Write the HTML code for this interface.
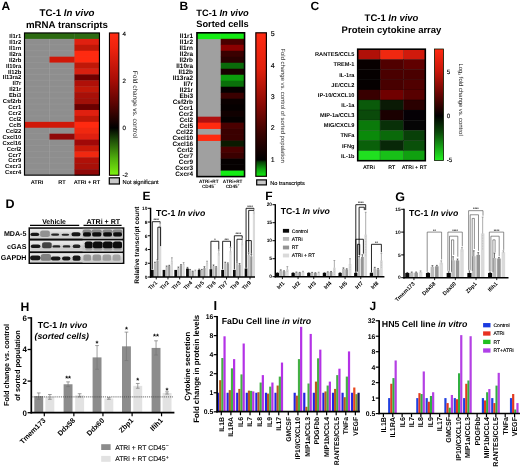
<!DOCTYPE html>
<html lang="en"><head><meta charset="utf-8"><title>Figure</title><style>html,body{margin:0;padding:0;background:#fff;overflow:hidden}svg{display:block}text{font-family:"Liberation Sans",Arial,sans-serif}</style></head><body><svg width="520" height="468" viewBox="0 0 520 468" font-family="Liberation Sans, Arial, sans-serif" text-rendering="geometricPrecision"><defs>
<linearGradient id="gA" x1="0" y1="0" x2="0" y2="1">
<stop offset="0" stop-color="#ff2a12"/><stop offset="0.10" stop-color="#f0230e"/><stop offset="0.33" stop-color="#a80d06"/><stop offset="0.5" stop-color="#5a0402"/><stop offset="0.667" stop-color="#000"/><stop offset="0.75" stop-color="#1d4a08"/><stop offset="0.88" stop-color="#4fae0c"/><stop offset="1" stop-color="#7df210"/>
</linearGradient>
<linearGradient id="gB" x1="0" y1="0" x2="0" y2="1">
<stop offset="0" stop-color="#ff2a12"/><stop offset="0.25" stop-color="#e0200c"/><stop offset="0.5" stop-color="#8a0a04"/><stop offset="0.7" stop-color="#3a0301"/><stop offset="0.885" stop-color="#000"/><stop offset="0.9" stop-color="#064006"/><stop offset="0.95" stop-color="#10a010"/><stop offset="1" stop-color="#10f010"/>
</linearGradient>
<linearGradient id="gC" x1="0" y1="0" x2="0" y2="1">
<stop offset="0" stop-color="#ff2a12"/><stop offset="0.2" stop-color="#c8160a"/><stop offset="0.4" stop-color="#6a0603"/><stop offset="0.6" stop-color="#000"/><stop offset="0.75" stop-color="#0a4a0a"/><stop offset="0.9" stop-color="#18b018"/><stop offset="1" stop-color="#22f022"/>
</linearGradient>
</defs>
<filter id="bl" x="-30%" y="-60%" width="160%" height="220%"><feGaussianBlur stdDeviation="0.55"/></filter><filter id="bl2" x="-30%" y="-60%" width="160%" height="220%"><feGaussianBlur stdDeviation="1.0"/></filter>
<text x="1.50" y="10.00" font-size="12" text-anchor="start" font-weight="bold" font-style="normal" fill="#000">A</text>
<text x="67.00" y="15.80" font-size="9.7" text-anchor="middle" font-weight="bold" font-style="normal" fill="#000">TC-1 <tspan font-style="italic">In vivo</tspan></text>
<text x="67.00" y="27.80" font-size="9.7" text-anchor="middle" font-weight="bold" font-style="normal" fill="#000">mRNA transcripts</text>
<rect x="24.50" y="32.95" width="74.95" height="142.20" fill="#8e8e8e"/>
<line x1="24.50" y1="38.88" x2="74.47" y2="38.88" stroke="#9a9a9a" stroke-width="0.5"/>
<line x1="24.50" y1="44.80" x2="74.47" y2="44.80" stroke="#9a9a9a" stroke-width="0.5"/>
<line x1="24.50" y1="50.73" x2="74.47" y2="50.73" stroke="#9a9a9a" stroke-width="0.5"/>
<line x1="24.50" y1="56.65" x2="74.47" y2="56.65" stroke="#9a9a9a" stroke-width="0.5"/>
<line x1="24.50" y1="62.58" x2="74.47" y2="62.58" stroke="#9a9a9a" stroke-width="0.5"/>
<line x1="24.50" y1="68.50" x2="74.47" y2="68.50" stroke="#9a9a9a" stroke-width="0.5"/>
<line x1="24.50" y1="74.43" x2="74.47" y2="74.43" stroke="#9a9a9a" stroke-width="0.5"/>
<line x1="24.50" y1="80.35" x2="74.47" y2="80.35" stroke="#9a9a9a" stroke-width="0.5"/>
<line x1="24.50" y1="86.28" x2="74.47" y2="86.28" stroke="#9a9a9a" stroke-width="0.5"/>
<line x1="24.50" y1="92.20" x2="74.47" y2="92.20" stroke="#9a9a9a" stroke-width="0.5"/>
<line x1="24.50" y1="98.12" x2="74.47" y2="98.12" stroke="#9a9a9a" stroke-width="0.5"/>
<line x1="24.50" y1="104.05" x2="74.47" y2="104.05" stroke="#9a9a9a" stroke-width="0.5"/>
<line x1="24.50" y1="109.97" x2="74.47" y2="109.97" stroke="#9a9a9a" stroke-width="0.5"/>
<line x1="24.50" y1="115.90" x2="74.47" y2="115.90" stroke="#9a9a9a" stroke-width="0.5"/>
<line x1="24.50" y1="121.83" x2="74.47" y2="121.83" stroke="#9a9a9a" stroke-width="0.5"/>
<line x1="24.50" y1="127.75" x2="74.47" y2="127.75" stroke="#9a9a9a" stroke-width="0.5"/>
<line x1="24.50" y1="133.68" x2="74.47" y2="133.68" stroke="#9a9a9a" stroke-width="0.5"/>
<line x1="24.50" y1="139.60" x2="74.47" y2="139.60" stroke="#9a9a9a" stroke-width="0.5"/>
<line x1="24.50" y1="145.53" x2="74.47" y2="145.53" stroke="#9a9a9a" stroke-width="0.5"/>
<line x1="24.50" y1="151.45" x2="74.47" y2="151.45" stroke="#9a9a9a" stroke-width="0.5"/>
<line x1="24.50" y1="157.38" x2="74.47" y2="157.38" stroke="#9a9a9a" stroke-width="0.5"/>
<line x1="24.50" y1="163.30" x2="74.47" y2="163.30" stroke="#9a9a9a" stroke-width="0.5"/>
<line x1="24.50" y1="169.23" x2="74.47" y2="169.23" stroke="#9a9a9a" stroke-width="0.5"/>
<line x1="49.48" y1="32.95" x2="49.48" y2="175.15" stroke="#a0a0a0" stroke-width="0.6"/>
<rect x="74.47" y="32.95" width="24.98" height="6.22" fill="#2d6b12"/>
<text x="21.30" y="38.01" font-size="5.85" text-anchor="end" font-weight="bold" font-style="normal" fill="#000">Il1r1</text>
<rect x="74.47" y="38.88" width="24.98" height="6.22" fill="#e02010"/>
<text x="21.30" y="43.94" font-size="5.85" text-anchor="end" font-weight="bold" font-style="normal" fill="#000">Il1r2</text>
<rect x="74.47" y="44.80" width="24.98" height="6.22" fill="#c01808"/>
<text x="21.30" y="49.86" font-size="5.85" text-anchor="end" font-weight="bold" font-style="normal" fill="#000">Il1rn</text>
<rect x="74.47" y="50.73" width="24.98" height="6.22" fill="#ff2a10"/>
<text x="21.30" y="55.79" font-size="5.85" text-anchor="end" font-weight="bold" font-style="normal" fill="#000">Il2ra</text>
<rect x="74.47" y="56.65" width="24.98" height="6.22" fill="#ff2a10"/>
<text x="21.30" y="61.71" font-size="5.85" text-anchor="end" font-weight="bold" font-style="normal" fill="#000">Il2rb</text>
<rect x="74.47" y="62.58" width="24.98" height="6.22" fill="#c01808"/>
<text x="21.30" y="67.64" font-size="5.85" text-anchor="end" font-weight="bold" font-style="normal" fill="#000">Il10ra</text>
<rect x="74.47" y="68.50" width="24.98" height="6.22" fill="#d82010"/>
<text x="21.30" y="73.56" font-size="5.85" text-anchor="end" font-weight="bold" font-style="normal" fill="#000">Il12b</text>
<rect x="74.47" y="74.43" width="24.98" height="6.22" fill="#700000"/>
<text x="21.30" y="79.49" font-size="5.85" text-anchor="end" font-weight="bold" font-style="normal" fill="#000">Il13ra2</text>
<rect x="74.47" y="80.35" width="24.98" height="6.22" fill="#b01008"/>
<text x="21.30" y="85.41" font-size="5.85" text-anchor="end" font-weight="bold" font-style="normal" fill="#000">Il7r</text>
<rect x="74.47" y="86.28" width="24.98" height="6.22" fill="#c01808"/>
<text x="21.30" y="91.34" font-size="5.85" text-anchor="end" font-weight="bold" font-style="normal" fill="#000">Il21r</text>
<rect x="74.47" y="92.20" width="24.98" height="6.22" fill="#a81008"/>
<text x="21.30" y="97.26" font-size="5.85" text-anchor="end" font-weight="bold" font-style="normal" fill="#000">Ebi3</text>
<rect x="74.47" y="98.12" width="24.98" height="6.22" fill="#a01008"/>
<text x="21.30" y="103.19" font-size="5.85" text-anchor="end" font-weight="bold" font-style="normal" fill="#000">Csf2rb</text>
<rect x="74.47" y="104.05" width="24.98" height="6.22" fill="#6a0000"/>
<text x="21.30" y="109.11" font-size="5.85" text-anchor="end" font-weight="bold" font-style="normal" fill="#000">Ccr1</text>
<rect x="74.47" y="109.97" width="24.98" height="6.22" fill="#e02010"/>
<text x="21.30" y="115.04" font-size="5.85" text-anchor="end" font-weight="bold" font-style="normal" fill="#000">Ccr2</text>
<rect x="74.47" y="115.90" width="24.98" height="6.22" fill="#c01808"/>
<text x="21.30" y="120.96" font-size="5.85" text-anchor="end" font-weight="bold" font-style="normal" fill="#000">Ccl2</text>
<rect x="74.47" y="121.83" width="24.98" height="6.22" fill="#ff2a10"/>
<text x="21.30" y="126.89" font-size="5.85" text-anchor="end" font-weight="bold" font-style="normal" fill="#000">Ccl5</text>
<rect x="74.47" y="127.75" width="24.98" height="6.22" fill="#f02810"/>
<text x="21.30" y="132.81" font-size="5.85" text-anchor="end" font-weight="bold" font-style="normal" fill="#000">Ccl22</text>
<rect x="74.47" y="133.68" width="24.98" height="6.22" fill="#e02010"/>
<text x="21.30" y="138.74" font-size="5.85" text-anchor="end" font-weight="bold" font-style="normal" fill="#000">Cxcl10</text>
<rect x="74.47" y="139.60" width="24.98" height="6.22" fill="#a00808"/>
<text x="21.30" y="144.66" font-size="5.85" text-anchor="end" font-weight="bold" font-style="normal" fill="#000">Cxcl16</text>
<rect x="74.47" y="145.53" width="24.98" height="6.22" fill="#c81808"/>
<text x="21.30" y="150.59" font-size="5.85" text-anchor="end" font-weight="bold" font-style="normal" fill="#000">Ccrl2</text>
<rect x="74.47" y="151.45" width="24.98" height="6.22" fill="#f02810"/>
<text x="21.30" y="156.51" font-size="5.85" text-anchor="end" font-weight="bold" font-style="normal" fill="#000">Ccr7</text>
<rect x="74.47" y="157.38" width="24.98" height="6.22" fill="#b01008"/>
<text x="21.30" y="162.44" font-size="5.85" text-anchor="end" font-weight="bold" font-style="normal" fill="#000">Ccr9</text>
<rect x="74.47" y="163.30" width="24.98" height="6.22" fill="#a81008"/>
<text x="21.30" y="168.36" font-size="5.85" text-anchor="end" font-weight="bold" font-style="normal" fill="#000">Cxcr3</text>
<rect x="74.47" y="169.23" width="24.98" height="6.22" fill="#900808"/>
<text x="21.30" y="174.29" font-size="5.85" text-anchor="end" font-weight="bold" font-style="normal" fill="#000">Cxcr4</text>
<rect x="24.50" y="32.95" width="50.07" height="5.92" fill="#2d6b12"/>
<rect x="49.48" y="56.65" width="25.08" height="5.92" fill="#d01808"/>
<rect x="24.50" y="121.83" width="50.07" height="5.92" fill="#d01808"/>
<rect x="49.48" y="133.68" width="25.08" height="5.92" fill="#900808"/>
<rect x="24.50" y="32.95" width="74.95" height="142.20" fill="none" stroke="#000" stroke-width="1.15"/>
<text x="36.99" y="184.20" font-size="5.6" text-anchor="middle" font-weight="bold" font-style="normal" fill="#000">ATRi</text>
<text x="61.98" y="184.20" font-size="5.6" text-anchor="middle" font-weight="bold" font-style="normal" fill="#000">RT</text>
<text x="86.96" y="184.20" font-size="5.6" text-anchor="middle" font-weight="bold" font-style="normal" fill="#000">ATRi + RT</text>
<rect x="109.45" y="32.95" width="9.40" height="142.30" fill="url(#gA)" stroke="#100" stroke-width="1.1"/>
<text x="122.40" y="35.70" font-size="6.2" text-anchor="start" font-weight="normal" font-style="normal" fill="#000" stroke="#000" stroke-width="0.14">4</text>
<text x="122.40" y="83.00" font-size="6.2" text-anchor="start" font-weight="normal" font-style="normal" fill="#000" stroke="#000" stroke-width="0.14">2</text>
<text x="122.40" y="129.90" font-size="6.2" text-anchor="start" font-weight="normal" font-style="normal" fill="#000" stroke="#000" stroke-width="0.14">0</text>
<text x="122.40" y="177.20" font-size="6.2" text-anchor="start" font-weight="normal" font-style="normal" fill="#000" stroke="#000" stroke-width="0.14">-2</text>
<text x="132.90" y="70.80" font-size="6.5" text-anchor="start" font-weight="normal" font-style="normal" fill="#222" transform="rotate(90 132.90 70.80)">Fold change vs. control</text>
<rect x="109.30" y="177.80" width="10.10" height="6.20" fill="#c8c8c8" stroke="#000" stroke-width="1.2"/>
<text x="122.60" y="183.70" font-size="5.75" text-anchor="start" font-weight="normal" font-style="normal" fill="#000" stroke="#000" stroke-width="0.14">Not significant</text>
<text x="179.60" y="10.30" font-size="12" text-anchor="start" font-weight="bold" font-style="normal" fill="#000">B</text>
<text x="196.30" y="16.10" font-size="9.25" text-anchor="start" font-weight="bold" font-style="normal" fill="#000">TC-1 <tspan font-style="italic">In vivo</tspan></text>
<text x="196.30" y="27.00" font-size="9.25" text-anchor="start" font-weight="bold" font-style="normal" fill="#000">Sorted cells</text>
<rect x="196.95" y="32.80" width="47.60" height="143.80" fill="#a0a0a0"/>
<rect x="196.95" y="32.80" width="23.90" height="6.29" fill="#14ec14"/>
<rect x="220.75" y="32.80" width="23.80" height="6.29" fill="#14ec14"/>
<text x="193.00" y="38.10" font-size="6.4" text-anchor="end" font-weight="bold" font-style="normal" fill="#000">Il1r1</text>
<rect x="220.75" y="38.79" width="23.80" height="6.29" fill="#4a0000"/>
<text x="193.00" y="44.09" font-size="6.4" text-anchor="end" font-weight="bold" font-style="normal" fill="#000">Il1r2</text>
<rect x="220.75" y="44.78" width="23.80" height="6.29" fill="#8b0000"/>
<text x="193.00" y="50.08" font-size="6.4" text-anchor="end" font-weight="bold" font-style="normal" fill="#000">Il1rn</text>
<rect x="220.75" y="50.77" width="23.80" height="6.29" fill="#3a0000"/>
<text x="193.00" y="56.07" font-size="6.4" text-anchor="end" font-weight="bold" font-style="normal" fill="#000">Il2ra</text>
<rect x="220.75" y="56.77" width="23.80" height="6.29" fill="#2a0000"/>
<text x="193.00" y="62.06" font-size="6.4" text-anchor="end" font-weight="bold" font-style="normal" fill="#000">Il2rb</text>
<rect x="220.75" y="62.76" width="23.80" height="6.29" fill="#0a6a0a"/>
<text x="193.00" y="68.05" font-size="6.4" text-anchor="end" font-weight="bold" font-style="normal" fill="#000">Il10ra</text>
<rect x="220.75" y="68.75" width="23.80" height="6.29" fill="#1a0000"/>
<text x="193.00" y="74.05" font-size="6.4" text-anchor="end" font-weight="bold" font-style="normal" fill="#000">Il12b</text>
<rect x="220.75" y="74.74" width="23.80" height="6.29" fill="#0c9c0c"/>
<text x="193.00" y="80.04" font-size="6.4" text-anchor="end" font-weight="bold" font-style="normal" fill="#000">Il13ra2</text>
<rect x="220.75" y="80.73" width="23.80" height="6.29" fill="#0a700a"/>
<text x="193.00" y="86.03" font-size="6.4" text-anchor="end" font-weight="bold" font-style="normal" fill="#000">Il7r</text>
<rect x="220.75" y="86.72" width="23.80" height="6.29" fill="#050000"/>
<text x="193.00" y="92.02" font-size="6.4" text-anchor="end" font-weight="bold" font-style="normal" fill="#000">Il21r</text>
<rect x="220.75" y="92.72" width="23.80" height="6.29" fill="#3a0000"/>
<text x="193.00" y="98.01" font-size="6.4" text-anchor="end" font-weight="bold" font-style="normal" fill="#000">Ebi3</text>
<rect x="220.75" y="98.71" width="23.80" height="6.29" fill="#0a0000"/>
<text x="193.00" y="104.00" font-size="6.4" text-anchor="end" font-weight="bold" font-style="normal" fill="#000">Csf2rb</text>
<rect x="220.75" y="104.70" width="23.80" height="6.29" fill="#050000"/>
<text x="193.00" y="110.00" font-size="6.4" text-anchor="end" font-weight="bold" font-style="normal" fill="#000">Ccr1</text>
<rect x="220.75" y="110.69" width="23.80" height="6.29" fill="#100000"/>
<text x="193.00" y="115.99" font-size="6.4" text-anchor="end" font-weight="bold" font-style="normal" fill="#000">Ccr2</text>
<rect x="196.95" y="116.68" width="23.90" height="6.29" fill="#b01010"/>
<rect x="220.75" y="116.68" width="23.80" height="6.29" fill="#050000"/>
<text x="193.00" y="121.98" font-size="6.4" text-anchor="end" font-weight="bold" font-style="normal" fill="#000">Ccl2</text>
<rect x="196.95" y="122.67" width="23.90" height="6.29" fill="#ff2a10"/>
<rect x="220.75" y="122.67" width="23.80" height="6.29" fill="#4a0000"/>
<text x="193.00" y="127.97" font-size="6.4" text-anchor="end" font-weight="bold" font-style="normal" fill="#000">Ccl5</text>
<rect x="220.75" y="128.67" width="23.80" height="6.29" fill="#3a0000"/>
<text x="193.00" y="133.96" font-size="6.4" text-anchor="end" font-weight="bold" font-style="normal" fill="#000">Ccl22</text>
<rect x="196.95" y="134.66" width="23.90" height="6.29" fill="#ff2a10"/>
<rect x="220.75" y="134.66" width="23.80" height="6.29" fill="#3a0000"/>
<text x="193.00" y="139.95" font-size="6.4" text-anchor="end" font-weight="bold" font-style="normal" fill="#000">Cxcl10</text>
<rect x="220.75" y="140.65" width="23.80" height="6.29" fill="#0a1a00"/>
<text x="193.00" y="145.95" font-size="6.4" text-anchor="end" font-weight="bold" font-style="normal" fill="#000">Cxcl16</text>
<rect x="220.75" y="146.64" width="23.80" height="6.29" fill="#4a0000"/>
<text x="193.00" y="151.94" font-size="6.4" text-anchor="end" font-weight="bold" font-style="normal" fill="#000">Ccrl2</text>
<rect x="220.75" y="152.63" width="23.80" height="6.29" fill="#3a0000"/>
<text x="193.00" y="157.93" font-size="6.4" text-anchor="end" font-weight="bold" font-style="normal" fill="#000">Ccr7</text>
<rect x="220.75" y="158.62" width="23.80" height="6.29" fill="#050000"/>
<text x="193.00" y="163.92" font-size="6.4" text-anchor="end" font-weight="bold" font-style="normal" fill="#000">Ccr9</text>
<rect x="220.75" y="164.62" width="23.80" height="6.29" fill="#050000"/>
<text x="193.00" y="169.91" font-size="6.4" text-anchor="end" font-weight="bold" font-style="normal" fill="#000">Cxcr3</text>
<rect x="220.75" y="170.61" width="23.80" height="6.29" fill="#14ec14"/>
<text x="193.00" y="175.90" font-size="6.4" text-anchor="end" font-weight="bold" font-style="normal" fill="#000">Cxcr4</text>
<rect x="196.95" y="32.80" width="47.60" height="143.80" fill="none" stroke="#000" stroke-width="1.6"/>
<text x="208.85" y="182.60" font-size="4.7" text-anchor="middle" font-weight="bold" font-style="normal" fill="#000">ATRi+RT</text>
<text x="208.85" y="187.70" font-size="4.7" text-anchor="middle" font-weight="bold" font-style="normal" fill="#000">CD45<tspan font-size="3.2" dy="-1.6">−</tspan></text>
<text x="232.65" y="182.60" font-size="4.7" text-anchor="middle" font-weight="bold" font-style="normal" fill="#000">ATRi+RT</text>
<text x="232.65" y="187.70" font-size="4.7" text-anchor="middle" font-weight="bold" font-style="normal" fill="#000">CD45<tspan font-size="3.2" dy="-1.6">+</tspan></text>
<rect x="255.85" y="32.80" width="10.55" height="143.50" fill="url(#gB)" stroke="#100" stroke-width="1.2"/>
<text x="270.80" y="36.30" font-size="7.0" text-anchor="start" font-weight="normal" font-style="normal" fill="#000" stroke="#000" stroke-width="0.14">5</text>
<text x="270.80" y="67.90" font-size="7.0" text-anchor="start" font-weight="normal" font-style="normal" fill="#000" stroke="#000" stroke-width="0.14">4</text>
<text x="270.80" y="99.00" font-size="7.0" text-anchor="start" font-weight="normal" font-style="normal" fill="#000" stroke="#000" stroke-width="0.14">3</text>
<text x="270.80" y="130.20" font-size="7.0" text-anchor="start" font-weight="normal" font-style="normal" fill="#000" stroke="#000" stroke-width="0.14">2</text>
<text x="270.80" y="162.20" font-size="7.0" text-anchor="start" font-weight="normal" font-style="normal" fill="#000" stroke="#000" stroke-width="0.14">1</text>
<text x="280.90" y="48.50" font-size="5.9" text-anchor="start" font-weight="normal" font-style="normal" fill="#333" transform="rotate(90 280.90 48.50)">Fold change vs. control of sorted population</text>
<rect x="256.70" y="179.90" width="9.70" height="5.00" fill="#c8c8c8" stroke="#000" stroke-width="1.2"/>
<text x="270.20" y="185.00" font-size="5.6" text-anchor="start" font-weight="normal" font-style="normal" fill="#000" stroke="#000" stroke-width="0.14">No transcripts</text>
<text x="310.40" y="9.50" font-size="12" text-anchor="start" font-weight="bold" font-style="normal" fill="#000">C</text>
<text x="391.50" y="20.80" font-size="9.5" text-anchor="middle" font-weight="bold" font-style="normal" fill="#000">TC-1 <tspan font-style="italic">In vivo</tspan></text>
<text x="391.50" y="33.10" font-size="9.5" text-anchor="middle" font-weight="bold" font-style="normal" fill="#000">Protein cytokine array</text>
<rect x="357.70" y="49.20" width="22.70" height="10.44" fill="#b01008"/>
<rect x="380.10" y="49.20" width="23.60" height="10.44" fill="#f02810"/>
<rect x="403.40" y="49.20" width="21.90" height="10.44" fill="#d01a0c"/>
<text x="354.50" y="56.27" font-size="5.65" text-anchor="end" font-weight="bold" font-style="normal" fill="#000">RANTES/CCL5</text>
<rect x="357.70" y="59.34" width="22.70" height="10.44" fill="#080000"/>
<rect x="380.10" y="59.34" width="23.60" height="10.44" fill="#500000"/>
<rect x="403.40" y="59.34" width="21.90" height="10.44" fill="#600000"/>
<text x="354.50" y="66.40" font-size="5.65" text-anchor="end" font-weight="bold" font-style="normal" fill="#000">TREM-1</text>
<rect x="357.70" y="69.47" width="22.70" height="10.44" fill="#050000"/>
<rect x="380.10" y="69.47" width="23.60" height="10.44" fill="#4a0000"/>
<rect x="403.40" y="69.47" width="21.90" height="10.44" fill="#4a0000"/>
<text x="354.50" y="76.54" font-size="5.65" text-anchor="end" font-weight="bold" font-style="normal" fill="#000">IL-1ra</text>
<rect x="357.70" y="79.61" width="22.70" height="10.44" fill="#050000"/>
<rect x="380.10" y="79.61" width="23.60" height="10.44" fill="#480000"/>
<rect x="403.40" y="79.61" width="21.90" height="10.44" fill="#500000"/>
<text x="354.50" y="86.68" font-size="5.65" text-anchor="end" font-weight="bold" font-style="normal" fill="#000">JE/CCL2</text>
<rect x="357.70" y="89.75" width="22.70" height="10.44" fill="#380000"/>
<rect x="380.10" y="89.75" width="23.60" height="10.44" fill="#700000"/>
<rect x="403.40" y="89.75" width="21.90" height="10.44" fill="#580000"/>
<text x="354.50" y="96.81" font-size="5.65" text-anchor="end" font-weight="bold" font-style="normal" fill="#000">IP-10/CXCL10</text>
<rect x="357.70" y="99.88" width="22.70" height="10.44" fill="#0a5a0a"/>
<rect x="380.10" y="99.88" width="23.60" height="10.44" fill="#0a1a05"/>
<rect x="403.40" y="99.88" width="21.90" height="10.44" fill="#2a0000"/>
<text x="354.50" y="106.95" font-size="5.65" text-anchor="end" font-weight="bold" font-style="normal" fill="#000">IL-1a</text>
<rect x="357.70" y="110.02" width="22.70" height="10.44" fill="#0a4a0a"/>
<rect x="380.10" y="110.02" width="23.60" height="10.44" fill="#1a0000"/>
<rect x="403.40" y="110.02" width="21.90" height="10.44" fill="#050005"/>
<text x="354.50" y="117.09" font-size="5.65" text-anchor="end" font-weight="bold" font-style="normal" fill="#000">MIP-1a/CCL3</text>
<rect x="357.70" y="120.15" width="22.70" height="10.44" fill="#0a7a0a"/>
<rect x="380.10" y="120.15" width="23.60" height="10.44" fill="#083008"/>
<rect x="403.40" y="120.15" width="21.90" height="10.44" fill="#050505"/>
<text x="354.50" y="127.22" font-size="5.65" text-anchor="end" font-weight="bold" font-style="normal" fill="#000">MIG/CXCL9</text>
<rect x="357.70" y="130.29" width="22.70" height="10.44" fill="#0a8a0a"/>
<rect x="380.10" y="130.29" width="23.60" height="10.44" fill="#0a6a0a"/>
<rect x="403.40" y="130.29" width="21.90" height="10.44" fill="#084008"/>
<text x="354.50" y="137.36" font-size="5.65" text-anchor="end" font-weight="bold" font-style="normal" fill="#000">TNFa</text>
<rect x="357.70" y="140.43" width="22.70" height="10.44" fill="#0a600a"/>
<rect x="380.10" y="140.43" width="23.60" height="10.44" fill="#082808"/>
<rect x="403.40" y="140.43" width="21.90" height="10.44" fill="#0a500a"/>
<text x="354.50" y="147.50" font-size="5.65" text-anchor="end" font-weight="bold" font-style="normal" fill="#000">IFNg</text>
<rect x="357.70" y="150.56" width="22.70" height="10.44" fill="#20e020"/>
<rect x="380.10" y="150.56" width="23.60" height="10.44" fill="#18c018"/>
<rect x="403.40" y="150.56" width="21.90" height="10.44" fill="#10a010"/>
<text x="354.50" y="157.63" font-size="5.65" text-anchor="end" font-weight="bold" font-style="normal" fill="#000">IL-1b</text>
<line x1="357.70" y1="59.34" x2="425.30" y2="59.34" stroke="#000" stroke-width="0.4" opacity="0.6"/>
<line x1="357.70" y1="69.47" x2="425.30" y2="69.47" stroke="#000" stroke-width="0.4" opacity="0.6"/>
<line x1="357.70" y1="79.61" x2="425.30" y2="79.61" stroke="#000" stroke-width="0.4" opacity="0.6"/>
<line x1="357.70" y1="89.75" x2="425.30" y2="89.75" stroke="#000" stroke-width="0.4" opacity="0.6"/>
<line x1="357.70" y1="99.88" x2="425.30" y2="99.88" stroke="#000" stroke-width="0.4" opacity="0.6"/>
<line x1="357.70" y1="110.02" x2="425.30" y2="110.02" stroke="#000" stroke-width="0.4" opacity="0.6"/>
<line x1="357.70" y1="120.15" x2="425.30" y2="120.15" stroke="#000" stroke-width="0.4" opacity="0.6"/>
<line x1="357.70" y1="130.29" x2="425.30" y2="130.29" stroke="#000" stroke-width="0.4" opacity="0.6"/>
<line x1="357.70" y1="140.43" x2="425.30" y2="140.43" stroke="#000" stroke-width="0.4" opacity="0.6"/>
<line x1="357.70" y1="150.56" x2="425.30" y2="150.56" stroke="#000" stroke-width="0.4" opacity="0.6"/>
<line x1="380.10" y1="49.20" x2="380.10" y2="160.70" stroke="#000" stroke-width="0.4" opacity="0.6"/>
<line x1="403.40" y1="49.20" x2="403.40" y2="160.70" stroke="#000" stroke-width="0.4" opacity="0.6"/>
<rect x="357.70" y="49.20" width="67.60" height="111.50" fill="none" stroke="#000" stroke-width="1.6"/>
<text x="368.90" y="169.00" font-size="5.3" text-anchor="middle" font-weight="bold" font-style="normal" fill="#000">ATRi</text>
<text x="391.75" y="169.00" font-size="5.3" text-anchor="middle" font-weight="bold" font-style="normal" fill="#000">RT</text>
<text x="414.20" y="169.00" font-size="5.3" text-anchor="middle" font-weight="bold" font-style="normal" fill="#000">ATRi + RT</text>
<rect x="434.50" y="49.00" width="9.00" height="111.40" fill="url(#gC)" stroke="#0a1a00" stroke-width="0.8"/>
<text x="446.80" y="73.70" font-size="6.2" text-anchor="start" font-weight="normal" font-style="normal" fill="#000" stroke="#000" stroke-width="0.14">5</text>
<text x="446.80" y="118.00" font-size="6.2" text-anchor="start" font-weight="normal" font-style="normal" fill="#000" stroke="#000" stroke-width="0.14">0</text>
<text x="446.80" y="162.40" font-size="6.2" text-anchor="start" font-weight="normal" font-style="normal" fill="#000" stroke="#000" stroke-width="0.14">-5</text>
<text x="459.30" y="63.40" font-size="5.9" text-anchor="start" font-weight="normal" font-style="normal" fill="#222" transform="rotate(90 459.30 63.40)">Log<tspan font-size="3.4" dy="1.2">2</tspan><tspan dy="-1.2"> fold change vs. control</tspan></text>
<text x="5.60" y="208.40" font-size="12.5" text-anchor="start" font-weight="bold" font-style="normal" fill="#000">D</text>
<text x="54.00" y="224.30" font-size="6.9" text-anchor="middle" font-weight="bold" font-style="normal" fill="#000">Vehicle</text>
<text x="103.40" y="224.30" font-size="7.1" text-anchor="middle" font-weight="bold" font-style="normal" fill="#000">ATRi + RT</text>
<line x1="30.00" y1="225.40" x2="79.20" y2="225.40" stroke="#000" stroke-width="1.2"/>
<line x1="83.50" y1="225.40" x2="121.60" y2="225.40" stroke="#000" stroke-width="1.2"/>
<rect x="28.50" y="227.30" width="95.90" height="36.70" fill="#0a0a0a"/>
<rect x="30.00" y="228.80" width="92.70" height="9.70" fill="#e6e6e6"/>
<rect x="82.50" y="228.80" width="40.20" height="9.70" fill="#cfcfcf"/>
<text x="26.40" y="236.25" font-size="7.1" text-anchor="end" font-weight="bold" font-style="normal" fill="#000">MDA-5</text>
<g clip-path="url(#cp228)"><clipPath id="cp228"><rect x="30" y="228.8" width="92.7" height="9.699999999999989"/></clipPath>
<rect x="30" y="232.5" width="92.7" height="5.8" fill="#888" opacity="0.28" filter="url(#bl2)"/>
<rect x="30.4" y="232.8" width="8.8" height="3.2" rx="2.2" ry="1.6" fill="#111" opacity="0.95" filter="url(#bl)"/>
<rect x="40.2" y="230.6" width="9.6" height="6.3" rx="2.2" ry="1.6" fill="#8a8a8a" opacity="0.9" filter="url(#bl)"/>
<rect x="51.1" y="233.5" width="8.1" height="2.3" rx="2.2" ry="1.2" fill="#1a1a1a" opacity="0.95" filter="url(#bl)"/>
<rect x="61.6" y="233.7" width="7.6" height="2.1" rx="2.2" ry="1.1" fill="#1a1a1a" opacity="0.95" filter="url(#bl)"/>
<rect x="71.6" y="232.2" width="8.8" height="4.1" rx="2.2" ry="1.6" fill="#111" opacity="0.95" filter="url(#bl)"/>
<rect x="82.7" y="229.6" width="8.5" height="4.4" rx="2.2" ry="1.6" fill="#777" opacity="0.8" filter="url(#bl)"/>
<rect x="91.5" y="229.6" width="10.2" height="4.4" rx="2.2" ry="1.6" fill="#777" opacity="0.8" filter="url(#bl)"/>
<rect x="102.7" y="229.6" width="9.6" height="4.4" rx="2.2" ry="1.6" fill="#777" opacity="0.8" filter="url(#bl)"/>
<rect x="112.7" y="229.6" width="9.6" height="4.4" rx="2.2" ry="1.6" fill="#777" opacity="0.8" filter="url(#bl)"/>
<rect x="83.0" y="232.2" width="8.0" height="4.4" rx="2.2" ry="1.6" fill="#0a0a0a" opacity="1" filter="url(#bl)"/>
<rect x="92.2" y="232.2" width="9.2" height="4.4" rx="2.2" ry="1.6" fill="#0a0a0a" opacity="1" filter="url(#bl)"/>
<rect x="103.2" y="232.2" width="8.8" height="4.4" rx="2.2" ry="1.6" fill="#0a0a0a" opacity="1" filter="url(#bl)"/>
<rect x="113.2" y="232.2" width="8.8" height="4.4" rx="2.2" ry="1.6" fill="#0a0a0a" opacity="1" filter="url(#bl)"/>
</g>
<rect x="30.00" y="240.60" width="92.70" height="10.70" fill="#e6e6e6"/>
<rect x="82.50" y="240.60" width="40.20" height="10.70" fill="#dcdcdc"/>
<text x="26.40" y="248.55" font-size="7.1" text-anchor="end" font-weight="bold" font-style="normal" fill="#000">cGAS</text>
<g clip-path="url(#cp240)"><clipPath id="cp240"><rect x="30" y="240.6" width="92.7" height="10.700000000000017"/></clipPath>
<rect x="30" y="244.8" width="92.7" height="6.4" fill="#888" opacity="0.28" filter="url(#bl2)"/>
<rect x="30.8" y="244.4" width="9.6" height="3.7" rx="2.2" ry="1.6" fill="#111" opacity="0.95" filter="url(#bl)"/>
<rect x="42.1" y="242.2" width="9.6" height="6.1" rx="2.2" ry="1.6" fill="#333" opacity="0.9" filter="url(#bl)"/>
<rect x="52.4" y="245.2" width="8.0" height="2.4" rx="2.2" ry="1.2" fill="#1a1a1a" opacity="0.95" filter="url(#bl)"/>
<rect x="62.7" y="245.2" width="7.7" height="2.4" rx="2.2" ry="1.2" fill="#1a1a1a" opacity="0.95" filter="url(#bl)"/>
<rect x="72.7" y="244.6" width="7.7" height="3.4" rx="2.2" ry="1.6" fill="#1a1a1a" opacity="0.95" filter="url(#bl)"/>
<rect x="85.2" y="246.0" width="7.2" height="4.6" rx="2.2" ry="1.6" fill="#999" opacity="0.7" filter="url(#bl)"/>
<rect x="93.4" y="246.0" width="9.0" height="4.6" rx="2.2" ry="1.6" fill="#999" opacity="0.7" filter="url(#bl)"/>
<rect x="103.4" y="246.0" width="9.0" height="4.6" rx="2.2" ry="1.6" fill="#999" opacity="0.7" filter="url(#bl)"/>
<rect x="113.4" y="246.0" width="8.4" height="4.6" rx="2.2" ry="1.6" fill="#999" opacity="0.7" filter="url(#bl)"/>
<rect x="84.8" y="241.6" width="7.8" height="6.7" rx="2.2" ry="1.6" fill="#0a0a0a" opacity="1" filter="url(#bl)"/>
<rect x="93.0" y="241.6" width="9.6" height="6.7" rx="2.2" ry="1.6" fill="#0a0a0a" opacity="1" filter="url(#bl)"/>
<rect x="103.0" y="241.6" width="9.6" height="6.7" rx="2.2" ry="1.6" fill="#0a0a0a" opacity="1" filter="url(#bl)"/>
<rect x="113.0" y="241.6" width="9.0" height="6.7" rx="2.2" ry="1.6" fill="#0a0a0a" opacity="1" filter="url(#bl)"/>
</g>
<rect x="30.00" y="253.10" width="92.70" height="9.40" fill="#e6e6e6"/>
<rect x="82.50" y="253.10" width="40.20" height="9.40" fill="#e4e4e4"/>
<text x="26.40" y="260.40" font-size="7.1" text-anchor="end" font-weight="bold" font-style="normal" fill="#000">GAPDH</text>
<g clip-path="url(#cp253)"><clipPath id="cp253"><rect x="30" y="253.1" width="92.7" height="9.400000000000006"/></clipPath>
<rect x="30" y="256.6" width="92.7" height="5.7" fill="#888" opacity="0.28" filter="url(#bl2)"/>
<rect x="30.2" y="255.6" width="10.2" height="4.6" rx="2.2" ry="1.6" fill="#111" opacity="0.95" filter="url(#bl)"/>
<rect x="40.9" y="254.0" width="10.1" height="6.8" rx="2.2" ry="1.6" fill="#777" opacity="0.9" filter="url(#bl)"/>
<rect x="50.9" y="256.6" width="9.5" height="3.8" rx="2.2" ry="1.6" fill="#111" opacity="0.95" filter="url(#bl)"/>
<rect x="62.1" y="256.6" width="8.3" height="3.8" rx="2.2" ry="1.6" fill="#111" opacity="0.95" filter="url(#bl)"/>
<rect x="72.7" y="255.6" width="7.7" height="5.2" rx="2.2" ry="1.6" fill="#111" opacity="0.95" filter="url(#bl)"/>
<rect x="83.4" y="254.4" width="7.6" height="6.4" rx="2.2" ry="1.6" fill="#909090" opacity="0.9" filter="url(#bl)"/>
<rect x="92.7" y="254.4" width="8.3" height="6.4" rx="2.2" ry="1.6" fill="#909090" opacity="0.9" filter="url(#bl)"/>
<rect x="102.7" y="254.4" width="8.3" height="6.4" rx="2.2" ry="1.6" fill="#999" opacity="0.9" filter="url(#bl)"/>
<rect x="112.7" y="254.4" width="7.7" height="6.4" rx="2.2" ry="1.6" fill="#a0a0a0" opacity="0.9" filter="url(#bl)"/>
</g>
<text x="142.60" y="200.20" font-size="12" text-anchor="start" font-weight="bold" font-style="normal" fill="#000">E</text>
<text x="138.90" y="245.10" font-size="6.6" text-anchor="middle" font-weight="bold" font-style="normal" fill="#000" transform="rotate(-90 138.90 245.10)">Relative transcript count</text>
<rect x="150.91" y="269.93" width="2.80" height="7.07" fill="#0a0a0a"/>
<rect x="153.83" y="263.26" width="2.20" height="13.74" fill="#bababa"/>
<line x1="154.93" y1="263.26" x2="154.93" y2="262.23" stroke="#222" stroke-width="0.6"/>
<line x1="154.03" y1="262.23" x2="155.83" y2="262.23" stroke="#222" stroke-width="0.6"/>
<rect x="156.45" y="260.51" width="2.20" height="16.49" fill="#949494"/>
<line x1="157.55" y1="260.51" x2="157.55" y2="259.48" stroke="#222" stroke-width="0.6"/>
<line x1="156.65" y1="259.48" x2="158.45" y2="259.48" stroke="#222" stroke-width="0.6"/>
<rect x="159.07" y="226.16" width="2.20" height="50.84" fill="#dadada"/>
<line x1="160.17" y1="226.16" x2="160.17" y2="223.41" stroke="#777" stroke-width="0.6"/>
<line x1="160.17" y1="226.16" x2="160.17" y2="228.91" stroke="#aaa" stroke-width="0.6" stroke-dasharray="0.8 0.8"/>
<line x1="159.27" y1="223.41" x2="161.07" y2="223.41" stroke="#777" stroke-width="0.6"/>
<line x1="156.24" y1="277.00" x2="156.24" y2="279.40" stroke="#000" stroke-width="0.9"/>
<text x="157.64" y="283.20" font-size="5.5" text-anchor="end" font-weight="bold" font-style="normal" fill="#000" transform="rotate(-45 157.64 283.20)">Tlr1</text>
<rect x="162.63" y="269.93" width="2.80" height="7.07" fill="#0a0a0a"/>
<rect x="165.55" y="266.69" width="2.20" height="10.30" fill="#bababa"/>
<line x1="166.65" y1="266.69" x2="166.65" y2="266.01" stroke="#222" stroke-width="0.6"/>
<line x1="165.75" y1="266.01" x2="167.55" y2="266.01" stroke="#222" stroke-width="0.6"/>
<rect x="168.17" y="266.01" width="2.20" height="10.99" fill="#949494"/>
<line x1="169.27" y1="266.01" x2="169.27" y2="265.32" stroke="#222" stroke-width="0.6"/>
<line x1="168.37" y1="265.32" x2="170.17" y2="265.32" stroke="#222" stroke-width="0.6"/>
<rect x="170.79" y="261.20" width="2.20" height="15.80" fill="#dadada"/>
<line x1="171.89" y1="261.20" x2="171.89" y2="257.76" stroke="#777" stroke-width="0.6"/>
<line x1="171.89" y1="261.20" x2="171.89" y2="264.63" stroke="#aaa" stroke-width="0.6" stroke-dasharray="0.8 0.8"/>
<line x1="170.99" y1="257.76" x2="172.79" y2="257.76" stroke="#777" stroke-width="0.6"/>
<line x1="167.96" y1="277.00" x2="167.96" y2="279.40" stroke="#000" stroke-width="0.9"/>
<text x="169.36" y="283.20" font-size="5.5" text-anchor="end" font-weight="bold" font-style="normal" fill="#000" transform="rotate(-45 169.36 283.20)">Tlr2</text>
<rect x="174.35" y="269.93" width="2.80" height="7.07" fill="#0a0a0a"/>
<rect x="177.27" y="268.07" width="2.20" height="8.93" fill="#bababa"/>
<line x1="178.37" y1="268.07" x2="178.37" y2="267.04" stroke="#222" stroke-width="0.6"/>
<line x1="177.47" y1="267.04" x2="179.27" y2="267.04" stroke="#222" stroke-width="0.6"/>
<rect x="179.89" y="265.32" width="2.20" height="11.68" fill="#949494"/>
<line x1="180.99" y1="265.32" x2="180.99" y2="264.63" stroke="#222" stroke-width="0.6"/>
<line x1="180.09" y1="264.63" x2="181.89" y2="264.63" stroke="#222" stroke-width="0.6"/>
<rect x="182.51" y="263.95" width="2.20" height="13.05" fill="#dadada"/>
<line x1="183.61" y1="263.95" x2="183.61" y2="262.57" stroke="#777" stroke-width="0.6"/>
<line x1="183.61" y1="263.95" x2="183.61" y2="265.32" stroke="#aaa" stroke-width="0.6" stroke-dasharray="0.8 0.8"/>
<line x1="182.71" y1="262.57" x2="184.51" y2="262.57" stroke="#777" stroke-width="0.6"/>
<line x1="179.68" y1="277.00" x2="179.68" y2="279.40" stroke="#000" stroke-width="0.9"/>
<text x="181.08" y="283.20" font-size="5.5" text-anchor="end" font-weight="bold" font-style="normal" fill="#000" transform="rotate(-45 181.08 283.20)">Tlr3</text>
<rect x="186.07" y="268.56" width="2.80" height="8.44" fill="#0a0a0a"/>
<line x1="187.47" y1="268.76" x2="187.47" y2="267.38" stroke="#222" stroke-width="0.6"/>
<line x1="186.57" y1="267.38" x2="188.37" y2="267.38" stroke="#222" stroke-width="0.6"/>
<rect x="188.99" y="270.13" width="2.20" height="6.87" fill="#bababa"/>
<line x1="190.09" y1="270.13" x2="190.09" y2="269.44" stroke="#222" stroke-width="0.6"/>
<line x1="189.19" y1="269.44" x2="190.99" y2="269.44" stroke="#222" stroke-width="0.6"/>
<rect x="191.61" y="271.50" width="2.20" height="5.50" fill="#949494"/>
<line x1="192.71" y1="271.50" x2="192.71" y2="271.16" stroke="#222" stroke-width="0.6"/>
<line x1="191.81" y1="271.16" x2="193.61" y2="271.16" stroke="#222" stroke-width="0.6"/>
<rect x="194.23" y="270.82" width="2.20" height="6.18" fill="#dadada"/>
<line x1="195.33" y1="270.82" x2="195.33" y2="270.13" stroke="#777" stroke-width="0.6"/>
<line x1="195.33" y1="270.82" x2="195.33" y2="271.50" stroke="#aaa" stroke-width="0.6" stroke-dasharray="0.8 0.8"/>
<line x1="194.43" y1="270.13" x2="196.23" y2="270.13" stroke="#777" stroke-width="0.6"/>
<line x1="191.40" y1="277.00" x2="191.40" y2="279.40" stroke="#000" stroke-width="0.9"/>
<text x="192.80" y="283.20" font-size="5.5" text-anchor="end" font-weight="bold" font-style="normal" fill="#000" transform="rotate(-45 192.80 283.20)">Tlr4</text>
<rect x="197.79" y="269.93" width="2.80" height="7.07" fill="#0a0a0a"/>
<line x1="199.19" y1="270.13" x2="199.19" y2="269.10" stroke="#222" stroke-width="0.6"/>
<line x1="198.29" y1="269.10" x2="200.09" y2="269.10" stroke="#222" stroke-width="0.6"/>
<rect x="200.71" y="270.13" width="2.20" height="6.87" fill="#bababa"/>
<line x1="201.81" y1="270.13" x2="201.81" y2="269.44" stroke="#222" stroke-width="0.6"/>
<line x1="200.91" y1="269.44" x2="202.71" y2="269.44" stroke="#222" stroke-width="0.6"/>
<rect x="203.33" y="268.07" width="2.20" height="8.93" fill="#949494"/>
<line x1="204.43" y1="268.07" x2="204.43" y2="266.69" stroke="#222" stroke-width="0.6"/>
<line x1="203.53" y1="266.69" x2="205.33" y2="266.69" stroke="#222" stroke-width="0.6"/>
<rect x="205.95" y="263.26" width="2.20" height="13.74" fill="#dadada"/>
<line x1="207.05" y1="263.26" x2="207.05" y2="261.20" stroke="#777" stroke-width="0.6"/>
<line x1="207.05" y1="263.26" x2="207.05" y2="265.32" stroke="#aaa" stroke-width="0.6" stroke-dasharray="0.8 0.8"/>
<line x1="206.15" y1="261.20" x2="207.95" y2="261.20" stroke="#777" stroke-width="0.6"/>
<line x1="203.12" y1="277.00" x2="203.12" y2="279.40" stroke="#000" stroke-width="0.9"/>
<text x="204.52" y="283.20" font-size="5.5" text-anchor="end" font-weight="bold" font-style="normal" fill="#000" transform="rotate(-45 204.52 283.20)">Tlr5</text>
<rect x="209.51" y="269.24" width="2.80" height="7.76" fill="#0a0a0a"/>
<line x1="210.91" y1="269.44" x2="210.91" y2="268.76" stroke="#222" stroke-width="0.6"/>
<line x1="210.01" y1="268.76" x2="211.81" y2="268.76" stroke="#222" stroke-width="0.6"/>
<rect x="212.43" y="266.01" width="2.20" height="10.99" fill="#bababa"/>
<line x1="213.53" y1="266.01" x2="213.53" y2="264.98" stroke="#222" stroke-width="0.6"/>
<line x1="212.63" y1="264.98" x2="214.43" y2="264.98" stroke="#222" stroke-width="0.6"/>
<rect x="215.05" y="267.38" width="2.20" height="9.62" fill="#949494"/>
<line x1="216.15" y1="267.38" x2="216.15" y2="266.69" stroke="#222" stroke-width="0.6"/>
<line x1="215.25" y1="266.69" x2="217.05" y2="266.69" stroke="#222" stroke-width="0.6"/>
<rect x="217.67" y="252.95" width="2.20" height="24.05" fill="#dadada"/>
<line x1="218.77" y1="252.95" x2="218.77" y2="250.21" stroke="#777" stroke-width="0.6"/>
<line x1="218.77" y1="252.95" x2="218.77" y2="255.70" stroke="#aaa" stroke-width="0.6" stroke-dasharray="0.8 0.8"/>
<line x1="217.87" y1="250.21" x2="219.67" y2="250.21" stroke="#777" stroke-width="0.6"/>
<line x1="214.84" y1="277.00" x2="214.84" y2="279.40" stroke="#000" stroke-width="0.9"/>
<text x="216.24" y="283.20" font-size="5.5" text-anchor="end" font-weight="bold" font-style="normal" fill="#000" transform="rotate(-45 216.24 283.20)">Tlr6</text>
<rect x="221.23" y="269.93" width="2.80" height="7.07" fill="#0a0a0a"/>
<rect x="224.15" y="263.26" width="2.20" height="13.74" fill="#bababa"/>
<line x1="225.25" y1="263.26" x2="225.25" y2="262.23" stroke="#222" stroke-width="0.6"/>
<line x1="224.35" y1="262.23" x2="226.15" y2="262.23" stroke="#222" stroke-width="0.6"/>
<rect x="226.77" y="263.95" width="2.20" height="13.05" fill="#949494"/>
<line x1="227.87" y1="263.95" x2="227.87" y2="262.92" stroke="#222" stroke-width="0.6"/>
<line x1="226.97" y1="262.92" x2="228.77" y2="262.92" stroke="#222" stroke-width="0.6"/>
<rect x="229.39" y="250.89" width="2.20" height="26.11" fill="#dadada"/>
<line x1="230.49" y1="250.89" x2="230.49" y2="247.46" stroke="#777" stroke-width="0.6"/>
<line x1="230.49" y1="250.89" x2="230.49" y2="254.33" stroke="#aaa" stroke-width="0.6" stroke-dasharray="0.8 0.8"/>
<line x1="229.59" y1="247.46" x2="231.39" y2="247.46" stroke="#777" stroke-width="0.6"/>
<line x1="226.56" y1="277.00" x2="226.56" y2="279.40" stroke="#000" stroke-width="0.9"/>
<text x="227.96" y="283.20" font-size="5.5" text-anchor="end" font-weight="bold" font-style="normal" fill="#000" transform="rotate(-45 227.96 283.20)">Tlr7</text>
<rect x="232.95" y="269.93" width="2.80" height="7.07" fill="#0a0a0a"/>
<rect x="235.87" y="263.26" width="2.20" height="13.74" fill="#bababa"/>
<line x1="236.97" y1="263.26" x2="236.97" y2="261.89" stroke="#222" stroke-width="0.6"/>
<line x1="236.07" y1="261.89" x2="237.87" y2="261.89" stroke="#222" stroke-width="0.6"/>
<rect x="238.49" y="264.63" width="2.20" height="12.37" fill="#949494"/>
<line x1="239.59" y1="264.63" x2="239.59" y2="263.60" stroke="#222" stroke-width="0.6"/>
<line x1="238.69" y1="263.60" x2="240.49" y2="263.60" stroke="#222" stroke-width="0.6"/>
<rect x="241.11" y="242.65" width="2.20" height="34.35" fill="#dadada"/>
<line x1="242.21" y1="242.65" x2="242.21" y2="239.22" stroke="#777" stroke-width="0.6"/>
<line x1="242.21" y1="242.65" x2="242.21" y2="246.09" stroke="#aaa" stroke-width="0.6" stroke-dasharray="0.8 0.8"/>
<line x1="241.31" y1="239.22" x2="243.11" y2="239.22" stroke="#777" stroke-width="0.6"/>
<line x1="238.28" y1="277.00" x2="238.28" y2="279.40" stroke="#000" stroke-width="0.9"/>
<text x="239.68" y="283.20" font-size="5.5" text-anchor="end" font-weight="bold" font-style="normal" fill="#000" transform="rotate(-45 239.68 283.20)">Tlr8</text>
<rect x="244.67" y="268.56" width="2.80" height="8.44" fill="#0a0a0a"/>
<line x1="246.07" y1="268.76" x2="246.07" y2="267.73" stroke="#222" stroke-width="0.6"/>
<line x1="245.17" y1="267.73" x2="246.97" y2="267.73" stroke="#222" stroke-width="0.6"/>
<rect x="247.59" y="255.02" width="2.20" height="21.98" fill="#bababa"/>
<line x1="248.69" y1="255.02" x2="248.69" y2="252.95" stroke="#222" stroke-width="0.6"/>
<line x1="247.79" y1="252.95" x2="249.59" y2="252.95" stroke="#222" stroke-width="0.6"/>
<rect x="250.21" y="256.39" width="2.20" height="20.61" fill="#949494"/>
<line x1="251.31" y1="256.39" x2="251.31" y2="254.33" stroke="#222" stroke-width="0.6"/>
<line x1="250.41" y1="254.33" x2="252.21" y2="254.33" stroke="#222" stroke-width="0.6"/>
<rect x="252.83" y="211.74" width="2.20" height="65.27" fill="#dadada"/>
<line x1="253.93" y1="211.74" x2="253.93" y2="208.99" stroke="#777" stroke-width="0.6"/>
<line x1="253.93" y1="211.74" x2="253.93" y2="214.48" stroke="#aaa" stroke-width="0.6" stroke-dasharray="0.8 0.8"/>
<line x1="253.03" y1="208.99" x2="254.83" y2="208.99" stroke="#777" stroke-width="0.6"/>
<line x1="250.00" y1="277.00" x2="250.00" y2="279.40" stroke="#000" stroke-width="0.9"/>
<text x="251.40" y="283.20" font-size="5.5" text-anchor="end" font-weight="bold" font-style="normal" fill="#000" transform="rotate(-45 251.40 283.20)">Tlr9</text>
<line x1="150.55" y1="207.80" x2="150.55" y2="277.70" stroke="#000" stroke-width="1.45"/>
<line x1="149.85" y1="277.00" x2="255.00" y2="277.00" stroke="#000" stroke-width="1.45"/>
<line x1="147.75" y1="277.00" x2="150.55" y2="277.00" stroke="#000" stroke-width="1.0"/>
<text x="147.35" y="278.73" font-size="4.8" text-anchor="end" font-weight="bold" font-style="normal" fill="#000">0</text>
<line x1="147.75" y1="263.26" x2="150.55" y2="263.26" stroke="#000" stroke-width="1.0"/>
<text x="147.35" y="264.99" font-size="4.8" text-anchor="end" font-weight="bold" font-style="normal" fill="#000">2</text>
<line x1="147.75" y1="249.52" x2="150.55" y2="249.52" stroke="#000" stroke-width="1.0"/>
<text x="147.35" y="251.25" font-size="4.8" text-anchor="end" font-weight="bold" font-style="normal" fill="#000">4</text>
<line x1="147.75" y1="235.78" x2="150.55" y2="235.78" stroke="#000" stroke-width="1.0"/>
<text x="147.35" y="237.51" font-size="4.8" text-anchor="end" font-weight="bold" font-style="normal" fill="#000">6</text>
<line x1="147.75" y1="222.04" x2="150.55" y2="222.04" stroke="#000" stroke-width="1.0"/>
<text x="147.35" y="223.77" font-size="4.8" text-anchor="end" font-weight="bold" font-style="normal" fill="#000">8</text>
<line x1="147.75" y1="208.30" x2="150.55" y2="208.30" stroke="#000" stroke-width="1.0"/>
<text x="147.35" y="210.03" font-size="4.8" text-anchor="end" font-weight="bold" font-style="normal" fill="#000">10</text>
<path d="M152.31 269.44 V221.70 H160.17 V222.73" stroke="#000" stroke-width="0.85" fill="none"/>
<text x="156.24" y="221.40" font-size="3.6" text-anchor="middle" font-weight="bold" font-style="normal" fill="#000">****</text>
<path d="M157.85 259.14 V227.19 H160.57 V246.09" stroke="#000" stroke-width="0.85" fill="none"/>
<path d="M210.91 268.07 V241.28 H218.77 V249.52" stroke="#000" stroke-width="0.85" fill="none"/>
<text x="214.84" y="240.98" font-size="3.6" text-anchor="middle" font-weight="bold" font-style="normal" fill="#000">*</text>
<path d="M222.63 269.44 V241.28 H230.49 V246.77" stroke="#000" stroke-width="0.85" fill="none"/>
<text x="226.56" y="240.98" font-size="3.6" text-anchor="middle" font-weight="bold" font-style="normal" fill="#000">***</text>
<path d="M234.35 269.44 V235.78 H242.21 V238.53" stroke="#000" stroke-width="0.85" fill="none"/>
<text x="238.28" y="235.48" font-size="3.6" text-anchor="middle" font-weight="bold" font-style="normal" fill="#000">****</text>
<path d="M236.97 261.20 V239.22 H242.21 V239.22" stroke="#000" stroke-width="0.85" fill="none"/>
<path d="M246.07 267.38 V208.30 H253.93 V208.64" stroke="#000" stroke-width="0.85" fill="none"/>
<text x="250.00" y="208.00" font-size="3.6" text-anchor="middle" font-weight="bold" font-style="normal" fill="#000">****</text>
<path d="M248.69 252.27 V210.36 H253.93 V210.36" stroke="#000" stroke-width="0.85" fill="none"/>
<path d="M246.07 267.38 V240.59 H251.31 V253.64" stroke="#000" stroke-width="0.85" fill="none"/>
<text x="156.00" y="216.10" font-size="8.7" text-anchor="start" font-weight="bold" font-style="normal" fill="#000">TC-1 <tspan font-style="italic">In vivo</tspan></text>
<text x="265.20" y="199.90" font-size="12" text-anchor="start" font-weight="bold" font-style="normal" fill="#000">F</text>
<rect x="275.77" y="272.90" width="3.35" height="3.80" fill="#0a0a0a"/>
<line x1="277.45" y1="273.10" x2="277.45" y2="272.74" stroke="#222" stroke-width="0.6"/>
<line x1="276.55" y1="272.74" x2="278.35" y2="272.74" stroke="#222" stroke-width="0.6"/>
<rect x="279.38" y="270.58" width="2.75" height="6.12" fill="#bababa"/>
<line x1="280.75" y1="270.58" x2="280.75" y2="269.86" stroke="#222" stroke-width="0.6"/>
<line x1="279.85" y1="269.86" x2="281.65" y2="269.86" stroke="#222" stroke-width="0.6"/>
<rect x="282.68" y="271.30" width="2.75" height="5.40" fill="#949494"/>
<line x1="284.05" y1="271.30" x2="284.05" y2="270.76" stroke="#222" stroke-width="0.6"/>
<line x1="283.15" y1="270.76" x2="284.95" y2="270.76" stroke="#222" stroke-width="0.6"/>
<rect x="285.97" y="269.50" width="2.75" height="7.20" fill="#dadada"/>
<line x1="287.35" y1="269.50" x2="287.35" y2="266.62" stroke="#777" stroke-width="0.6"/>
<line x1="287.35" y1="269.50" x2="287.35" y2="272.38" stroke="#aaa" stroke-width="0.6" stroke-dasharray="0.8 0.8"/>
<line x1="286.45" y1="266.62" x2="288.25" y2="266.62" stroke="#777" stroke-width="0.6"/>
<line x1="282.40" y1="276.70" x2="282.40" y2="279.10" stroke="#000" stroke-width="0.9"/>
<text x="285.00" y="283.50" font-size="5.5" text-anchor="end" font-weight="bold" font-style="normal" fill="#000" transform="rotate(-45 285.00 283.50)">Irf1</text>
<rect x="291.44" y="272.90" width="3.35" height="3.80" fill="#0a0a0a"/>
<line x1="293.12" y1="273.10" x2="293.12" y2="272.74" stroke="#222" stroke-width="0.6"/>
<line x1="292.22" y1="272.74" x2="294.02" y2="272.74" stroke="#222" stroke-width="0.6"/>
<rect x="295.05" y="272.38" width="2.75" height="4.32" fill="#bababa"/>
<line x1="296.42" y1="272.38" x2="296.42" y2="272.02" stroke="#222" stroke-width="0.6"/>
<line x1="295.52" y1="272.02" x2="297.32" y2="272.02" stroke="#222" stroke-width="0.6"/>
<rect x="298.35" y="272.74" width="2.75" height="3.96" fill="#949494"/>
<line x1="299.72" y1="272.74" x2="299.72" y2="272.38" stroke="#222" stroke-width="0.6"/>
<line x1="298.82" y1="272.38" x2="300.62" y2="272.38" stroke="#222" stroke-width="0.6"/>
<rect x="301.64" y="272.02" width="2.75" height="4.68" fill="#dadada"/>
<line x1="303.02" y1="272.02" x2="303.02" y2="271.30" stroke="#777" stroke-width="0.6"/>
<line x1="303.02" y1="272.02" x2="303.02" y2="272.74" stroke="#aaa" stroke-width="0.6" stroke-dasharray="0.8 0.8"/>
<line x1="302.12" y1="271.30" x2="303.92" y2="271.30" stroke="#777" stroke-width="0.6"/>
<line x1="298.07" y1="276.70" x2="298.07" y2="279.10" stroke="#000" stroke-width="0.9"/>
<text x="300.67" y="283.50" font-size="5.5" text-anchor="end" font-weight="bold" font-style="normal" fill="#000" transform="rotate(-45 300.67 283.50)">Irf2</text>
<rect x="307.11" y="272.90" width="3.35" height="3.80" fill="#0a0a0a"/>
<line x1="308.79" y1="273.10" x2="308.79" y2="272.74" stroke="#222" stroke-width="0.6"/>
<line x1="307.89" y1="272.74" x2="309.69" y2="272.74" stroke="#222" stroke-width="0.6"/>
<rect x="310.71" y="272.74" width="2.75" height="3.96" fill="#bababa"/>
<line x1="312.09" y1="272.74" x2="312.09" y2="272.38" stroke="#222" stroke-width="0.6"/>
<line x1="311.19" y1="272.38" x2="312.99" y2="272.38" stroke="#222" stroke-width="0.6"/>
<rect x="314.01" y="273.10" width="2.75" height="3.60" fill="#949494"/>
<line x1="315.39" y1="273.10" x2="315.39" y2="272.74" stroke="#222" stroke-width="0.6"/>
<line x1="314.49" y1="272.74" x2="316.29" y2="272.74" stroke="#222" stroke-width="0.6"/>
<rect x="317.31" y="272.74" width="2.75" height="3.96" fill="#dadada"/>
<line x1="318.69" y1="272.74" x2="318.69" y2="272.20" stroke="#777" stroke-width="0.6"/>
<line x1="318.69" y1="272.74" x2="318.69" y2="273.28" stroke="#aaa" stroke-width="0.6" stroke-dasharray="0.8 0.8"/>
<line x1="317.79" y1="272.20" x2="319.59" y2="272.20" stroke="#777" stroke-width="0.6"/>
<line x1="313.74" y1="276.70" x2="313.74" y2="279.10" stroke="#000" stroke-width="0.9"/>
<text x="316.34" y="283.50" font-size="5.5" text-anchor="end" font-weight="bold" font-style="normal" fill="#000" transform="rotate(-45 316.34 283.50)">Irf3</text>
<rect x="322.78" y="272.90" width="3.35" height="3.80" fill="#0a0a0a"/>
<line x1="324.46" y1="273.10" x2="324.46" y2="272.74" stroke="#222" stroke-width="0.6"/>
<line x1="323.56" y1="272.74" x2="325.36" y2="272.74" stroke="#222" stroke-width="0.6"/>
<rect x="326.38" y="272.38" width="2.75" height="4.32" fill="#bababa"/>
<line x1="327.76" y1="272.38" x2="327.76" y2="271.84" stroke="#222" stroke-width="0.6"/>
<line x1="326.86" y1="271.84" x2="328.66" y2="271.84" stroke="#222" stroke-width="0.6"/>
<rect x="329.69" y="272.02" width="2.75" height="4.68" fill="#949494"/>
<line x1="331.06" y1="272.02" x2="331.06" y2="271.48" stroke="#222" stroke-width="0.6"/>
<line x1="330.16" y1="271.48" x2="331.96" y2="271.48" stroke="#222" stroke-width="0.6"/>
<rect x="332.98" y="267.70" width="2.75" height="9.00" fill="#dadada"/>
<line x1="334.36" y1="267.70" x2="334.36" y2="260.50" stroke="#777" stroke-width="0.6"/>
<line x1="334.36" y1="267.70" x2="334.36" y2="274.90" stroke="#aaa" stroke-width="0.6" stroke-dasharray="0.8 0.8"/>
<line x1="333.46" y1="260.50" x2="335.26" y2="260.50" stroke="#777" stroke-width="0.6"/>
<line x1="329.41" y1="276.70" x2="329.41" y2="279.10" stroke="#000" stroke-width="0.9"/>
<text x="332.01" y="283.50" font-size="5.5" text-anchor="end" font-weight="bold" font-style="normal" fill="#000" transform="rotate(-45 332.01 283.50)">Irf4</text>
<rect x="338.45" y="272.90" width="3.35" height="3.80" fill="#0a0a0a"/>
<line x1="340.13" y1="273.10" x2="340.13" y2="272.74" stroke="#222" stroke-width="0.6"/>
<line x1="339.23" y1="272.74" x2="341.03" y2="272.74" stroke="#222" stroke-width="0.6"/>
<rect x="342.06" y="268.78" width="2.75" height="7.92" fill="#bababa"/>
<line x1="343.43" y1="268.78" x2="343.43" y2="267.88" stroke="#222" stroke-width="0.6"/>
<line x1="342.53" y1="267.88" x2="344.33" y2="267.88" stroke="#222" stroke-width="0.6"/>
<rect x="345.36" y="269.50" width="2.75" height="7.20" fill="#949494"/>
<line x1="346.73" y1="269.50" x2="346.73" y2="268.78" stroke="#222" stroke-width="0.6"/>
<line x1="345.83" y1="268.78" x2="347.63" y2="268.78" stroke="#222" stroke-width="0.6"/>
<rect x="348.65" y="264.10" width="2.75" height="12.60" fill="#dadada"/>
<line x1="350.03" y1="264.10" x2="350.03" y2="258.70" stroke="#777" stroke-width="0.6"/>
<line x1="350.03" y1="264.10" x2="350.03" y2="269.50" stroke="#aaa" stroke-width="0.6" stroke-dasharray="0.8 0.8"/>
<line x1="349.13" y1="258.70" x2="350.93" y2="258.70" stroke="#777" stroke-width="0.6"/>
<line x1="345.08" y1="276.70" x2="345.08" y2="279.10" stroke="#000" stroke-width="0.9"/>
<text x="347.68" y="283.50" font-size="5.5" text-anchor="end" font-weight="bold" font-style="normal" fill="#000" transform="rotate(-45 347.68 283.50)">Irf5</text>
<rect x="354.12" y="272.90" width="3.35" height="3.80" fill="#0a0a0a"/>
<line x1="355.80" y1="273.10" x2="355.80" y2="272.38" stroke="#222" stroke-width="0.6"/>
<line x1="354.90" y1="272.38" x2="356.70" y2="272.38" stroke="#222" stroke-width="0.6"/>
<rect x="357.72" y="258.70" width="2.75" height="18.00" fill="#bababa"/>
<line x1="359.10" y1="258.70" x2="359.10" y2="256.54" stroke="#222" stroke-width="0.6"/>
<line x1="358.20" y1="256.54" x2="360.00" y2="256.54" stroke="#222" stroke-width="0.6"/>
<rect x="361.02" y="256.90" width="2.75" height="19.80" fill="#949494"/>
<line x1="362.40" y1="256.90" x2="362.40" y2="254.74" stroke="#222" stroke-width="0.6"/>
<line x1="361.50" y1="254.74" x2="363.30" y2="254.74" stroke="#222" stroke-width="0.6"/>
<rect x="364.32" y="234.58" width="2.75" height="42.12" fill="#dadada"/>
<line x1="365.70" y1="234.58" x2="365.70" y2="212.26" stroke="#777" stroke-width="0.6"/>
<line x1="365.70" y1="234.58" x2="365.70" y2="256.90" stroke="#aaa" stroke-width="0.6" stroke-dasharray="0.8 0.8"/>
<line x1="364.80" y1="212.26" x2="366.60" y2="212.26" stroke="#777" stroke-width="0.6"/>
<line x1="360.75" y1="276.70" x2="360.75" y2="279.10" stroke="#000" stroke-width="0.9"/>
<text x="363.35" y="283.50" font-size="5.5" text-anchor="end" font-weight="bold" font-style="normal" fill="#000" transform="rotate(-45 363.35 283.50)">Irf7</text>
<rect x="369.79" y="272.90" width="3.35" height="3.80" fill="#0a0a0a"/>
<line x1="371.47" y1="273.10" x2="371.47" y2="272.74" stroke="#222" stroke-width="0.6"/>
<line x1="370.57" y1="272.74" x2="372.37" y2="272.74" stroke="#222" stroke-width="0.6"/>
<rect x="373.39" y="268.42" width="2.75" height="8.28" fill="#bababa"/>
<line x1="374.77" y1="268.42" x2="374.77" y2="267.34" stroke="#222" stroke-width="0.6"/>
<line x1="373.87" y1="267.34" x2="375.67" y2="267.34" stroke="#222" stroke-width="0.6"/>
<rect x="376.69" y="269.50" width="2.75" height="7.20" fill="#949494"/>
<line x1="378.07" y1="269.50" x2="378.07" y2="268.60" stroke="#222" stroke-width="0.6"/>
<line x1="377.17" y1="268.60" x2="378.97" y2="268.60" stroke="#222" stroke-width="0.6"/>
<rect x="379.99" y="260.50" width="2.75" height="16.20" fill="#dadada"/>
<line x1="381.37" y1="260.50" x2="381.37" y2="253.30" stroke="#777" stroke-width="0.6"/>
<line x1="381.37" y1="260.50" x2="381.37" y2="267.70" stroke="#aaa" stroke-width="0.6" stroke-dasharray="0.8 0.8"/>
<line x1="380.47" y1="253.30" x2="382.27" y2="253.30" stroke="#777" stroke-width="0.6"/>
<line x1="376.42" y1="276.70" x2="376.42" y2="279.10" stroke="#000" stroke-width="0.9"/>
<text x="379.02" y="283.50" font-size="5.5" text-anchor="end" font-weight="bold" font-style="normal" fill="#000" transform="rotate(-45 379.02 283.50)">Irf8</text>
<line x1="275.30" y1="204.20" x2="275.30" y2="277.40" stroke="#000" stroke-width="1.45"/>
<line x1="274.60" y1="276.70" x2="384.40" y2="276.70" stroke="#000" stroke-width="1.45"/>
<line x1="272.50" y1="276.70" x2="275.30" y2="276.70" stroke="#000" stroke-width="1.0"/>
<text x="272.10" y="278.46" font-size="4.9" text-anchor="end" font-weight="bold" font-style="normal" fill="#000">0</text>
<line x1="272.50" y1="258.70" x2="275.30" y2="258.70" stroke="#000" stroke-width="1.0"/>
<text x="272.10" y="260.46" font-size="4.9" text-anchor="end" font-weight="bold" font-style="normal" fill="#000">5</text>
<line x1="272.50" y1="240.70" x2="275.30" y2="240.70" stroke="#000" stroke-width="1.0"/>
<text x="272.10" y="242.46" font-size="4.9" text-anchor="end" font-weight="bold" font-style="normal" fill="#000">10</text>
<line x1="272.50" y1="222.70" x2="275.30" y2="222.70" stroke="#000" stroke-width="1.0"/>
<text x="272.10" y="224.46" font-size="4.9" text-anchor="end" font-weight="bold" font-style="normal" fill="#000">15</text>
<line x1="272.50" y1="204.70" x2="275.30" y2="204.70" stroke="#000" stroke-width="1.0"/>
<text x="272.10" y="206.46" font-size="4.9" text-anchor="end" font-weight="bold" font-style="normal" fill="#000">20</text>
<path d="M355.80 271.66 V204.70 H365.70 V210.10" stroke="#000" stroke-width="0.85" fill="none"/>
<text x="360.75" y="204.40" font-size="3.6" text-anchor="middle" font-weight="bold" font-style="normal" fill="#000">****</text>
<path d="M359.10 255.10 V207.22 H364.30 V210.10" stroke="#000" stroke-width="0.85" fill="none"/>
<path d="M355.80 271.66 V239.26 H363.40 V253.66" stroke="#000" stroke-width="0.85" fill="none"/>
<path d="M357.40 271.66 V244.30 H359.70 V255.46" stroke="#000" stroke-width="0.85" fill="none"/>
<path d="M371.47 272.02 V244.30 H381.37 V252.22" stroke="#000" stroke-width="0.85" fill="none"/>
<text x="376.42" y="244.00" font-size="3.6" text-anchor="middle" font-weight="bold" font-style="normal" fill="#000">**</text>
<text x="280.70" y="214.00" font-size="8.7" text-anchor="start" font-weight="bold" font-style="normal" fill="#000">TC-1 <tspan font-style="italic">In vivo</tspan></text>
<rect x="282.90" y="228.90" width="6.20" height="3.80" fill="#0a0a0a"/>
<text x="291.80" y="232.55" font-size="5.0" text-anchor="start" font-weight="normal" font-style="normal" fill="#000" stroke="#000" stroke-width="0.14">Control</text>
<rect x="282.90" y="237.00" width="6.20" height="3.80" fill="#bababa"/>
<text x="291.80" y="240.65" font-size="5.0" text-anchor="start" font-weight="normal" font-style="normal" fill="#000" stroke="#000" stroke-width="0.14">ATRi</text>
<rect x="282.90" y="245.60" width="6.20" height="3.80" fill="#949494"/>
<text x="291.80" y="249.25" font-size="5.0" text-anchor="start" font-weight="normal" font-style="normal" fill="#000" stroke="#000" stroke-width="0.14">RT</text>
<rect x="282.90" y="253.60" width="6.20" height="3.80" fill="#dadada"/>
<text x="291.80" y="257.25" font-size="5.0" text-anchor="start" font-weight="normal" font-style="normal" fill="#000" stroke="#000" stroke-width="0.14">ATRi + RT</text>
<text x="395.20" y="200.70" font-size="12.5" text-anchor="start" font-weight="bold" font-style="normal" fill="#000">G</text>
<rect x="405.24" y="272.94" width="4.15" height="4.76" fill="#0a0a0a"/>
<line x1="407.31" y1="273.14" x2="407.31" y2="272.46" stroke="#222" stroke-width="0.6"/>
<line x1="406.41" y1="272.46" x2="408.21" y2="272.46" stroke="#222" stroke-width="0.6"/>
<rect x="409.96" y="272.68" width="3.55" height="5.02" fill="#bababa"/>
<line x1="411.73" y1="272.68" x2="411.73" y2="272.00" stroke="#222" stroke-width="0.6"/>
<line x1="410.83" y1="272.00" x2="412.63" y2="272.00" stroke="#222" stroke-width="0.6"/>
<rect x="414.38" y="272.68" width="3.55" height="5.02" fill="#949494"/>
<line x1="416.15" y1="272.68" x2="416.15" y2="272.00" stroke="#222" stroke-width="0.6"/>
<line x1="415.25" y1="272.00" x2="417.05" y2="272.00" stroke="#222" stroke-width="0.6"/>
<rect x="418.80" y="271.77" width="3.55" height="5.93" fill="#dadada"/>
<line x1="420.57" y1="271.77" x2="420.57" y2="270.86" stroke="#777" stroke-width="0.6"/>
<line x1="420.57" y1="271.77" x2="420.57" y2="272.68" stroke="#aaa" stroke-width="0.6" stroke-dasharray="0.8 0.8"/>
<line x1="419.67" y1="270.86" x2="421.47" y2="270.86" stroke="#777" stroke-width="0.6"/>
<line x1="413.94" y1="277.70" x2="413.94" y2="280.10" stroke="#000" stroke-width="0.9"/>
<text x="415.14" y="284.10" font-size="5.5" text-anchor="end" font-weight="bold" font-style="normal" fill="#000" transform="rotate(-45 415.14 284.10)">Tmem173</text>
<rect x="425.94" y="272.94" width="4.15" height="4.76" fill="#0a0a0a"/>
<line x1="428.01" y1="273.14" x2="428.01" y2="272.68" stroke="#222" stroke-width="0.6"/>
<line x1="427.11" y1="272.68" x2="428.91" y2="272.68" stroke="#222" stroke-width="0.6"/>
<rect x="430.66" y="266.76" width="3.55" height="10.94" fill="#bababa"/>
<line x1="432.43" y1="266.76" x2="432.43" y2="265.62" stroke="#222" stroke-width="0.6"/>
<line x1="431.53" y1="265.62" x2="433.33" y2="265.62" stroke="#222" stroke-width="0.6"/>
<rect x="435.07" y="266.30" width="3.55" height="11.40" fill="#949494"/>
<line x1="436.85" y1="266.30" x2="436.85" y2="265.39" stroke="#222" stroke-width="0.6"/>
<line x1="435.95" y1="265.39" x2="437.75" y2="265.39" stroke="#222" stroke-width="0.6"/>
<rect x="439.50" y="262.65" width="3.55" height="15.05" fill="#dadada"/>
<line x1="441.27" y1="262.65" x2="441.27" y2="260.83" stroke="#777" stroke-width="0.6"/>
<line x1="441.27" y1="262.65" x2="441.27" y2="264.48" stroke="#aaa" stroke-width="0.6" stroke-dasharray="0.8 0.8"/>
<line x1="440.37" y1="260.83" x2="442.17" y2="260.83" stroke="#777" stroke-width="0.6"/>
<line x1="434.64" y1="277.70" x2="434.64" y2="280.10" stroke="#000" stroke-width="0.9"/>
<text x="435.84" y="284.10" font-size="5.5" text-anchor="end" font-weight="bold" font-style="normal" fill="#000" transform="rotate(-45 435.84 284.10)">Ddx58</text>
<rect x="446.63" y="272.94" width="4.15" height="4.76" fill="#0a0a0a"/>
<line x1="448.71" y1="273.14" x2="448.71" y2="271.77" stroke="#222" stroke-width="0.6"/>
<line x1="447.81" y1="271.77" x2="449.61" y2="271.77" stroke="#222" stroke-width="0.6"/>
<rect x="451.36" y="260.37" width="3.55" height="17.33" fill="#bababa"/>
<line x1="453.13" y1="260.37" x2="453.13" y2="256.72" stroke="#222" stroke-width="0.6"/>
<line x1="452.23" y1="256.72" x2="454.03" y2="256.72" stroke="#222" stroke-width="0.6"/>
<rect x="455.77" y="260.37" width="3.55" height="17.33" fill="#949494"/>
<line x1="457.55" y1="260.37" x2="457.55" y2="259.00" stroke="#222" stroke-width="0.6"/>
<line x1="456.65" y1="259.00" x2="458.45" y2="259.00" stroke="#222" stroke-width="0.6"/>
<rect x="460.19" y="249.43" width="3.55" height="28.27" fill="#dadada"/>
<line x1="461.97" y1="249.43" x2="461.97" y2="247.60" stroke="#777" stroke-width="0.6"/>
<line x1="461.97" y1="249.43" x2="461.97" y2="251.25" stroke="#aaa" stroke-width="0.6" stroke-dasharray="0.8 0.8"/>
<line x1="461.07" y1="247.60" x2="462.87" y2="247.60" stroke="#777" stroke-width="0.6"/>
<line x1="455.34" y1="277.70" x2="455.34" y2="280.10" stroke="#000" stroke-width="0.9"/>
<text x="456.54" y="284.10" font-size="5.5" text-anchor="end" font-weight="bold" font-style="normal" fill="#000" transform="rotate(-45 456.54 284.10)">Ddx60</text>
<rect x="467.34" y="272.94" width="4.15" height="4.76" fill="#0a0a0a"/>
<line x1="469.41" y1="273.14" x2="469.41" y2="270.86" stroke="#222" stroke-width="0.6"/>
<line x1="468.51" y1="270.86" x2="470.31" y2="270.86" stroke="#222" stroke-width="0.6"/>
<rect x="472.06" y="256.27" width="3.55" height="21.43" fill="#bababa"/>
<line x1="473.83" y1="256.27" x2="473.83" y2="250.80" stroke="#222" stroke-width="0.6"/>
<line x1="472.93" y1="250.80" x2="474.73" y2="250.80" stroke="#222" stroke-width="0.6"/>
<rect x="476.48" y="254.90" width="3.55" height="22.80" fill="#949494"/>
<line x1="478.25" y1="254.90" x2="478.25" y2="252.62" stroke="#222" stroke-width="0.6"/>
<line x1="477.35" y1="252.62" x2="479.15" y2="252.62" stroke="#222" stroke-width="0.6"/>
<rect x="480.90" y="233.47" width="3.55" height="44.23" fill="#dadada"/>
<line x1="482.67" y1="233.47" x2="482.67" y2="217.05" stroke="#777" stroke-width="0.6"/>
<line x1="482.67" y1="233.47" x2="482.67" y2="249.88" stroke="#aaa" stroke-width="0.6" stroke-dasharray="0.8 0.8"/>
<line x1="481.77" y1="217.05" x2="483.57" y2="217.05" stroke="#777" stroke-width="0.6"/>
<line x1="476.04" y1="277.70" x2="476.04" y2="280.10" stroke="#000" stroke-width="0.9"/>
<text x="477.24" y="284.10" font-size="5.5" text-anchor="end" font-weight="bold" font-style="normal" fill="#000" transform="rotate(-45 477.24 284.10)">Zbp1</text>
<rect x="488.04" y="272.94" width="4.15" height="4.76" fill="#0a0a0a"/>
<line x1="490.11" y1="273.14" x2="490.11" y2="272.23" stroke="#222" stroke-width="0.6"/>
<line x1="489.21" y1="272.23" x2="491.01" y2="272.23" stroke="#222" stroke-width="0.6"/>
<rect x="492.76" y="258.09" width="3.55" height="19.61" fill="#bababa"/>
<line x1="494.53" y1="258.09" x2="494.53" y2="253.08" stroke="#222" stroke-width="0.6"/>
<line x1="493.63" y1="253.08" x2="495.43" y2="253.08" stroke="#222" stroke-width="0.6"/>
<rect x="497.18" y="258.55" width="3.55" height="19.15" fill="#949494"/>
<line x1="498.95" y1="258.55" x2="498.95" y2="257.64" stroke="#222" stroke-width="0.6"/>
<line x1="498.05" y1="257.64" x2="499.85" y2="257.64" stroke="#222" stroke-width="0.6"/>
<rect x="501.60" y="252.16" width="3.55" height="25.54" fill="#dadada"/>
<line x1="503.37" y1="252.16" x2="503.37" y2="250.80" stroke="#777" stroke-width="0.6"/>
<line x1="503.37" y1="252.16" x2="503.37" y2="253.53" stroke="#aaa" stroke-width="0.6" stroke-dasharray="0.8 0.8"/>
<line x1="502.47" y1="250.80" x2="504.27" y2="250.80" stroke="#777" stroke-width="0.6"/>
<line x1="496.74" y1="277.70" x2="496.74" y2="280.10" stroke="#000" stroke-width="0.9"/>
<text x="497.94" y="284.10" font-size="5.5" text-anchor="end" font-weight="bold" font-style="normal" fill="#000" transform="rotate(-45 497.94 284.10)">Ifih1</text>
<line x1="404.00" y1="208.80" x2="404.00" y2="278.40" stroke="#000" stroke-width="1.45"/>
<line x1="403.30" y1="277.70" x2="508.50" y2="277.70" stroke="#000" stroke-width="1.45"/>
<line x1="401.20" y1="277.70" x2="404.00" y2="277.70" stroke="#000" stroke-width="1.0"/>
<text x="400.80" y="279.46" font-size="4.9" text-anchor="end" font-weight="bold" font-style="normal" fill="#000">0</text>
<line x1="401.20" y1="254.90" x2="404.00" y2="254.90" stroke="#000" stroke-width="1.0"/>
<text x="400.80" y="256.66" font-size="4.9" text-anchor="end" font-weight="bold" font-style="normal" fill="#000">5</text>
<line x1="401.20" y1="232.10" x2="404.00" y2="232.10" stroke="#000" stroke-width="1.0"/>
<text x="400.80" y="233.86" font-size="4.9" text-anchor="end" font-weight="bold" font-style="normal" fill="#000">10</text>
<line x1="401.20" y1="209.30" x2="404.00" y2="209.30" stroke="#000" stroke-width="1.0"/>
<text x="400.80" y="211.06" font-size="4.9" text-anchor="end" font-weight="bold" font-style="normal" fill="#000">15</text>
<path d="M427.20 271.77 V232.10 H441.60 V259.46" stroke="#444" stroke-width="0.6" fill="none"/>
<text x="434.40" y="231.80" font-size="3.6" text-anchor="middle" font-weight="bold" font-style="normal" fill="#000">**</text>
<path d="M447.90 270.86 V232.10 H462.30 V246.24" stroke="#444" stroke-width="0.6" fill="none"/>
<text x="455.10" y="231.80" font-size="3.6" text-anchor="middle" font-weight="bold" font-style="normal" fill="#000">****</text>
<path d="M449.50 270.86 V236.20 H457.80 V256.72" stroke="#444" stroke-width="0.6" fill="none"/>
<path d="M451.50 271.77 V239.85 H453.70 V254.90" stroke="#444" stroke-width="0.6" fill="none"/>
<path d="M468.60 269.95 V210.67 H483.00 V215.68" stroke="#444" stroke-width="0.6" fill="none"/>
<text x="475.80" y="210.37" font-size="3.6" text-anchor="middle" font-weight="bold" font-style="normal" fill="#000">****</text>
<path d="M470.20 269.95 V214.77 H478.50 V250.80" stroke="#444" stroke-width="0.6" fill="none"/>
<path d="M472.20 270.86 V218.42 H474.40 V248.97" stroke="#444" stroke-width="0.6" fill="none"/>
<path d="M489.30 271.32 V232.10 H503.70 V249.88" stroke="#444" stroke-width="0.6" fill="none"/>
<text x="496.50" y="231.80" font-size="3.6" text-anchor="middle" font-weight="bold" font-style="normal" fill="#000">****</text>
<path d="M490.90 271.32 V236.20 H499.20 V256.27" stroke="#444" stroke-width="0.6" fill="none"/>
<path d="M492.90 272.23 V239.85 H495.10 V252.16" stroke="#444" stroke-width="0.6" fill="none"/>
<text x="409.00" y="216.10" font-size="8.7" text-anchor="start" font-weight="bold" font-style="normal" fill="#000">TC-1 <tspan font-style="italic">In vivo</tspan></text>
<text x="20.60" y="310.50" font-size="12.2" text-anchor="start" font-weight="bold" font-style="normal" fill="#000">H</text>
<text x="9.20" y="365.00" font-size="7.3" text-anchor="middle" font-weight="bold" font-style="normal" fill="#000" transform="rotate(-90 9.20 365.00)">Fold change vs. control</text>
<text x="19.90" y="365.60" font-size="7.3" text-anchor="middle" font-weight="bold" font-style="normal" fill="#000" transform="rotate(-90 19.90 365.60)">of sorted population</text>
<text x="37.70" y="327.80" font-size="8.75" text-anchor="start" font-weight="bold" font-style="normal" fill="#000">TC-1 <tspan font-style="italic">In vivo</tspan></text>
<text x="34.50" y="338.70" font-size="8.75" text-anchor="start" font-weight="bold" font-style="italic" fill="#000">(sorted cells)</text>
<rect x="34.30" y="396.11" width="8.90" height="16.59" fill="#8c8c8c"/>
<line x1="38.75" y1="399.27" x2="38.75" y2="392.95" stroke="#777" stroke-width="0.7"/>
<line x1="36.90" y1="392.95" x2="40.60" y2="392.95" stroke="#777" stroke-width="0.7"/>
<line x1="36.90" y1="399.27" x2="40.60" y2="399.27" stroke="#777" stroke-width="0.7"/>
<rect x="45.40" y="396.90" width="8.90" height="15.80" fill="#e2e2e2"/>
<line x1="49.85" y1="399.27" x2="49.85" y2="394.53" stroke="#777" stroke-width="0.7"/>
<line x1="48.00" y1="394.53" x2="51.70" y2="394.53" stroke="#777" stroke-width="0.7"/>
<line x1="48.00" y1="399.27" x2="51.70" y2="399.27" stroke="#777" stroke-width="0.7"/>
<line x1="44.30" y1="412.70" x2="44.30" y2="416.30" stroke="#000" stroke-width="1.2"/>
<text x="46.10" y="421.00" font-size="7.2" text-anchor="end" font-weight="bold" font-style="normal" fill="#000" transform="rotate(-45 46.10 421.00)">Tmem173</text>
<rect x="63.60" y="384.26" width="8.90" height="28.44" fill="#8c8c8c"/>
<line x1="68.05" y1="386.63" x2="68.05" y2="381.89" stroke="#777" stroke-width="0.7"/>
<line x1="66.20" y1="381.89" x2="69.90" y2="381.89" stroke="#777" stroke-width="0.7"/>
<line x1="66.20" y1="386.63" x2="69.90" y2="386.63" stroke="#777" stroke-width="0.7"/>
<rect x="75.20" y="395.32" width="8.90" height="17.38" fill="#e2e2e2"/>
<line x1="79.65" y1="396.90" x2="79.65" y2="393.74" stroke="#777" stroke-width="0.7"/>
<line x1="77.80" y1="393.74" x2="81.50" y2="393.74" stroke="#777" stroke-width="0.7"/>
<line x1="77.80" y1="396.90" x2="81.50" y2="396.90" stroke="#777" stroke-width="0.7"/>
<line x1="73.85" y1="412.70" x2="73.85" y2="416.30" stroke="#000" stroke-width="1.2"/>
<text x="75.65" y="421.00" font-size="7.2" text-anchor="end" font-weight="bold" font-style="normal" fill="#000" transform="rotate(-45 75.65 421.00)">Ddx58</text>
<rect x="92.60" y="357.40" width="8.90" height="55.30" fill="#8c8c8c"/>
<line x1="97.05" y1="369.25" x2="97.05" y2="345.55" stroke="#777" stroke-width="0.7"/>
<line x1="95.20" y1="345.55" x2="98.90" y2="345.55" stroke="#777" stroke-width="0.7"/>
<line x1="95.20" y1="369.25" x2="98.90" y2="369.25" stroke="#777" stroke-width="0.7"/>
<rect x="104.40" y="398.48" width="8.90" height="14.22" fill="#e2e2e2"/>
<line x1="108.85" y1="399.27" x2="108.85" y2="397.69" stroke="#777" stroke-width="0.7"/>
<line x1="107.00" y1="397.69" x2="110.70" y2="397.69" stroke="#777" stroke-width="0.7"/>
<line x1="107.00" y1="399.27" x2="110.70" y2="399.27" stroke="#777" stroke-width="0.7"/>
<line x1="102.95" y1="412.70" x2="102.95" y2="416.30" stroke="#000" stroke-width="1.2"/>
<text x="104.75" y="421.00" font-size="7.2" text-anchor="end" font-weight="bold" font-style="normal" fill="#000" transform="rotate(-45 104.75 421.00)">Ddx60</text>
<rect x="122.00" y="346.34" width="8.90" height="66.36" fill="#8c8c8c"/>
<line x1="126.45" y1="360.56" x2="126.45" y2="332.12" stroke="#777" stroke-width="0.7"/>
<line x1="124.60" y1="332.12" x2="128.30" y2="332.12" stroke="#777" stroke-width="0.7"/>
<line x1="124.60" y1="360.56" x2="128.30" y2="360.56" stroke="#777" stroke-width="0.7"/>
<rect x="133.30" y="385.84" width="8.90" height="26.86" fill="#e2e2e2"/>
<line x1="137.75" y1="388.21" x2="137.75" y2="383.47" stroke="#777" stroke-width="0.7"/>
<line x1="135.90" y1="383.47" x2="139.60" y2="383.47" stroke="#777" stroke-width="0.7"/>
<line x1="135.90" y1="388.21" x2="139.60" y2="388.21" stroke="#777" stroke-width="0.7"/>
<line x1="132.10" y1="412.70" x2="132.10" y2="416.30" stroke="#000" stroke-width="1.2"/>
<text x="133.90" y="421.00" font-size="7.2" text-anchor="end" font-weight="bold" font-style="normal" fill="#000" transform="rotate(-45 133.90 421.00)">Zbp1</text>
<rect x="151.60" y="347.92" width="8.90" height="64.78" fill="#8c8c8c"/>
<line x1="156.05" y1="355.03" x2="156.05" y2="340.81" stroke="#777" stroke-width="0.7"/>
<line x1="154.20" y1="340.81" x2="157.90" y2="340.81" stroke="#777" stroke-width="0.7"/>
<line x1="154.20" y1="355.03" x2="157.90" y2="355.03" stroke="#777" stroke-width="0.7"/>
<rect x="162.60" y="392.95" width="8.90" height="19.75" fill="#e2e2e2"/>
<line x1="167.05" y1="394.06" x2="167.05" y2="391.84" stroke="#777" stroke-width="0.7"/>
<line x1="165.20" y1="391.84" x2="168.90" y2="391.84" stroke="#777" stroke-width="0.7"/>
<line x1="165.20" y1="394.06" x2="168.90" y2="394.06" stroke="#777" stroke-width="0.7"/>
<line x1="161.55" y1="412.70" x2="161.55" y2="416.30" stroke="#000" stroke-width="1.2"/>
<text x="163.35" y="421.00" font-size="7.2" text-anchor="end" font-weight="bold" font-style="normal" fill="#000" transform="rotate(-45 163.35 421.00)">Ifih1</text>
<line x1="31.40" y1="396.90" x2="173.00" y2="396.90" stroke="#444" stroke-width="0.8" stroke-dasharray="1.2 0.9"/>
<line x1="31.30" y1="317.20" x2="31.30" y2="413.50" stroke="#000" stroke-width="1.7"/>
<line x1="30.50" y1="412.70" x2="174.40" y2="412.70" stroke="#000" stroke-width="1.7"/>
<line x1="27.60" y1="412.70" x2="31.30" y2="412.70" stroke="#000" stroke-width="1.3"/>
<text x="26.90" y="415.50" font-size="7.9" text-anchor="end" font-weight="bold" font-style="normal" fill="#000">0</text>
<line x1="27.60" y1="381.10" x2="31.30" y2="381.10" stroke="#000" stroke-width="1.3"/>
<text x="26.90" y="383.90" font-size="7.9" text-anchor="end" font-weight="bold" font-style="normal" fill="#000">2</text>
<line x1="27.60" y1="349.50" x2="31.30" y2="349.50" stroke="#000" stroke-width="1.3"/>
<text x="26.90" y="352.30" font-size="7.9" text-anchor="end" font-weight="bold" font-style="normal" fill="#000">4</text>
<line x1="27.60" y1="317.90" x2="31.30" y2="317.90" stroke="#000" stroke-width="1.3"/>
<text x="26.90" y="320.70" font-size="7.9" text-anchor="end" font-weight="bold" font-style="normal" fill="#000">6</text>
<text x="68.10" y="381.10" font-size="7.6" text-anchor="middle" font-weight="bold" font-style="normal" fill="#000">**</text>
<text x="97.10" y="345.90" font-size="7.6" text-anchor="middle" font-weight="bold" font-style="normal" fill="#000">*</text>
<text x="126.50" y="331.90" font-size="7.6" text-anchor="middle" font-weight="bold" font-style="normal" fill="#000">*</text>
<text x="156.00" y="339.20" font-size="7.6" text-anchor="middle" font-weight="bold" font-style="normal" fill="#000">**</text>
<text x="137.70" y="382.80" font-size="7.6" text-anchor="middle" font-weight="bold" font-style="normal" fill="#000">*</text>
<text x="167.00" y="393.20" font-size="7.6" text-anchor="middle" font-weight="bold" font-style="normal" fill="#000">*</text>
<rect x="101.20" y="444.20" width="9.40" height="5.80" fill="#8c8c8c"/>
<rect x="101.20" y="455.90" width="9.40" height="5.90" fill="#e2e2e2"/>
<text x="115.20" y="449.60" font-size="6.8" text-anchor="start" font-weight="normal" font-style="normal" fill="#111" stroke="#111" stroke-width="0.14">ATRi + RT CD45<tspan font-size="5" dy="-2.4">−</tspan></text>
<text x="115.20" y="461.30" font-size="6.8" text-anchor="start" font-weight="normal" font-style="normal" fill="#111" stroke="#111" stroke-width="0.14">ATRi + RT CD45<tspan font-size="5" dy="-2.4">+</tspan></text>
<text x="213.60" y="309.60" font-size="13" text-anchor="start" font-weight="bold" font-style="normal" fill="#000">I</text>
<text x="190.20" y="366.30" font-size="7.7" text-anchor="middle" font-weight="bold" font-style="normal" fill="#000" transform="rotate(-90 190.20 366.30)">Cytokine secretion</text>
<text x="198.70" y="368.80" font-size="7.85" text-anchor="middle" font-weight="bold" font-style="normal" fill="#000" transform="rotate(-90 198.70 368.80)">Fold change in protein levels</text>
<line x1="221.30" y1="411.60" x2="221.30" y2="415.20" stroke="#000" stroke-width="1.2"/>
<text x="223.75" y="416.90" font-size="6.9" text-anchor="end" font-weight="bold" font-style="normal" fill="#000" transform="rotate(-90 223.75 416.90)">IL1B</text>
<rect x="217.00" y="392.75" width="2.20" height="18.85" fill="#2424e0"/>
<rect x="219.15" y="380.18" width="2.20" height="31.42" fill="#b85a20"/>
<rect x="221.30" y="358.01" width="2.20" height="53.59" fill="#44b044"/>
<rect x="223.45" y="336.30" width="2.20" height="75.30" fill="#b432e6"/>
<line x1="230.88" y1="411.60" x2="230.88" y2="415.20" stroke="#000" stroke-width="1.2"/>
<text x="233.32" y="416.90" font-size="6.9" text-anchor="end" font-weight="bold" font-style="normal" fill="#000" transform="rotate(-90 233.32 416.90)">IL1RA</text>
<rect x="226.57" y="392.75" width="2.20" height="18.85" fill="#2424e0"/>
<rect x="228.72" y="390.13" width="2.20" height="21.47" fill="#b85a20"/>
<rect x="230.88" y="368.35" width="2.20" height="43.25" fill="#44b044"/>
<rect x="233.02" y="359.12" width="2.20" height="52.48" fill="#b432e6"/>
<line x1="240.45" y1="411.60" x2="240.45" y2="415.20" stroke="#000" stroke-width="1.2"/>
<text x="242.90" y="416.90" font-size="6.9" text-anchor="end" font-weight="bold" font-style="normal" fill="#000" transform="rotate(-90 242.90 416.90)">IL6</text>
<rect x="236.15" y="392.75" width="2.20" height="18.85" fill="#2424e0"/>
<rect x="238.30" y="388.91" width="2.20" height="22.69" fill="#b85a20"/>
<rect x="240.45" y="374.40" width="2.20" height="37.20" fill="#44b044"/>
<rect x="242.60" y="343.51" width="2.20" height="68.09" fill="#b432e6"/>
<line x1="250.03" y1="411.60" x2="250.03" y2="415.20" stroke="#000" stroke-width="1.2"/>
<text x="252.47" y="416.90" font-size="6.9" text-anchor="end" font-weight="bold" font-style="normal" fill="#000" transform="rotate(-90 252.47 416.90)">IL7</text>
<rect x="245.72" y="392.75" width="2.20" height="18.85" fill="#2424e0"/>
<rect x="247.88" y="390.63" width="2.20" height="20.97" fill="#b85a20"/>
<rect x="250.03" y="390.89" width="2.20" height="20.71" fill="#44b044"/>
<rect x="252.17" y="391.41" width="2.20" height="20.19" fill="#b432e6"/>
<line x1="259.60" y1="411.60" x2="259.60" y2="415.20" stroke="#000" stroke-width="1.2"/>
<text x="262.05" y="416.90" font-size="6.9" text-anchor="end" font-weight="bold" font-style="normal" fill="#000" transform="rotate(-90 262.05 416.90)">IL8</text>
<rect x="255.30" y="392.75" width="2.20" height="18.85" fill="#2424e0"/>
<rect x="257.45" y="392.21" width="2.20" height="19.39" fill="#b85a20"/>
<rect x="259.60" y="382.54" width="2.20" height="29.06" fill="#44b044"/>
<rect x="261.75" y="375.11" width="2.20" height="36.49" fill="#b432e6"/>
<line x1="269.18" y1="411.60" x2="269.18" y2="415.20" stroke="#000" stroke-width="1.2"/>
<text x="271.62" y="416.90" font-size="6.9" text-anchor="end" font-weight="bold" font-style="normal" fill="#000" transform="rotate(-90 271.62 416.90)">IL9</text>
<rect x="264.88" y="392.75" width="2.20" height="18.85" fill="#2424e0"/>
<rect x="267.02" y="393.59" width="2.20" height="18.01" fill="#b85a20"/>
<rect x="269.18" y="386.62" width="2.20" height="24.98" fill="#44b044"/>
<rect x="271.32" y="382.54" width="2.20" height="29.06" fill="#b432e6"/>
<line x1="278.75" y1="411.60" x2="278.75" y2="415.20" stroke="#000" stroke-width="1.2"/>
<text x="281.20" y="416.90" font-size="6.9" text-anchor="end" font-weight="bold" font-style="normal" fill="#000" transform="rotate(-90 281.20 416.90)">IL17</text>
<rect x="274.45" y="392.75" width="2.20" height="18.85" fill="#2424e0"/>
<rect x="276.60" y="385.54" width="2.20" height="26.06" fill="#b85a20"/>
<rect x="278.75" y="376.60" width="2.20" height="35.00" fill="#44b044"/>
<rect x="280.90" y="362.56" width="2.20" height="49.04" fill="#b432e6"/>
<line x1="288.32" y1="411.60" x2="288.32" y2="415.20" stroke="#000" stroke-width="1.2"/>
<text x="290.77" y="416.90" font-size="6.9" text-anchor="end" font-weight="bold" font-style="normal" fill="#000" transform="rotate(-90 290.77 416.90)">GMCSF</text>
<line x1="297.90" y1="411.60" x2="297.90" y2="415.20" stroke="#000" stroke-width="1.2"/>
<text x="300.35" y="416.90" font-size="6.9" text-anchor="end" font-weight="bold" font-style="normal" fill="#000" transform="rotate(-90 300.35 416.90)">IP10/CXCL10</text>
<rect x="293.60" y="392.75" width="2.20" height="18.85" fill="#2424e0"/>
<rect x="295.75" y="395.65" width="2.20" height="15.95" fill="#b85a20"/>
<rect x="297.90" y="359.12" width="2.20" height="52.48" fill="#44b044"/>
<rect x="300.05" y="326.85" width="2.20" height="84.75" fill="#b432e6"/>
<line x1="307.48" y1="411.60" x2="307.48" y2="415.20" stroke="#000" stroke-width="1.2"/>
<text x="309.93" y="416.90" font-size="6.9" text-anchor="end" font-weight="bold" font-style="normal" fill="#000" transform="rotate(-90 309.93 416.90)">MIP1a/CCL3</text>
<rect x="303.18" y="392.75" width="2.20" height="18.85" fill="#2424e0"/>
<rect x="305.32" y="406.79" width="2.20" height="4.81" fill="#b85a20"/>
<rect x="307.48" y="383.50" width="2.20" height="28.10" fill="#44b044"/>
<rect x="309.62" y="333.93" width="2.20" height="77.67" fill="#b432e6"/>
<line x1="317.05" y1="411.60" x2="317.05" y2="415.20" stroke="#000" stroke-width="1.2"/>
<text x="319.50" y="416.90" font-size="6.9" text-anchor="end" font-weight="bold" font-style="normal" fill="#000" transform="rotate(-90 319.50 416.90)">PDGFbb</text>
<rect x="312.75" y="392.75" width="2.20" height="18.85" fill="#2424e0"/>
<rect x="314.90" y="381.61" width="2.20" height="29.99" fill="#b85a20"/>
<rect x="317.05" y="358.32" width="2.20" height="53.28" fill="#44b044"/>
<rect x="319.20" y="349.64" width="2.20" height="61.96" fill="#b432e6"/>
<line x1="326.62" y1="411.60" x2="326.62" y2="415.20" stroke="#000" stroke-width="1.2"/>
<text x="329.07" y="416.90" font-size="6.9" text-anchor="end" font-weight="bold" font-style="normal" fill="#000" transform="rotate(-90 329.07 416.90)">MIP1b/CCL4</text>
<rect x="322.32" y="392.75" width="2.20" height="18.85" fill="#2424e0"/>
<rect x="324.47" y="391.41" width="2.20" height="20.19" fill="#b85a20"/>
<rect x="326.62" y="385.54" width="2.20" height="26.06" fill="#44b044"/>
<rect x="328.77" y="381.61" width="2.20" height="29.99" fill="#b432e6"/>
<line x1="336.20" y1="411.60" x2="336.20" y2="415.20" stroke="#000" stroke-width="1.2"/>
<text x="338.65" y="416.90" font-size="6.9" text-anchor="end" font-weight="bold" font-style="normal" fill="#000" transform="rotate(-90 338.65 416.90)">RANTES/CCL5</text>
<rect x="331.90" y="392.75" width="2.20" height="18.85" fill="#2424e0"/>
<rect x="334.05" y="388.91" width="2.20" height="22.69" fill="#b85a20"/>
<rect x="336.20" y="375.11" width="2.20" height="36.49" fill="#44b044"/>
<rect x="338.35" y="368.69" width="2.20" height="42.91" fill="#b432e6"/>
<line x1="345.77" y1="411.60" x2="345.77" y2="415.20" stroke="#000" stroke-width="1.2"/>
<text x="348.22" y="416.90" font-size="6.9" text-anchor="end" font-weight="bold" font-style="normal" fill="#000" transform="rotate(-90 348.22 416.90)">TNFa</text>
<rect x="341.47" y="392.75" width="2.20" height="18.85" fill="#2424e0"/>
<rect x="343.62" y="397.22" width="2.20" height="14.38" fill="#b85a20"/>
<rect x="345.77" y="376.60" width="2.20" height="35.00" fill="#44b044"/>
<rect x="347.92" y="351.41" width="2.20" height="60.19" fill="#b432e6"/>
<line x1="355.35" y1="411.60" x2="355.35" y2="415.20" stroke="#000" stroke-width="1.2"/>
<text x="357.80" y="416.90" font-size="6.9" text-anchor="end" font-weight="bold" font-style="normal" fill="#000" transform="rotate(-90 357.80 416.90)">VEGF</text>
<rect x="351.05" y="392.75" width="2.20" height="18.85" fill="#2424e0"/>
<rect x="353.20" y="387.51" width="2.20" height="24.09" fill="#e8481c"/>
<rect x="355.35" y="394.16" width="2.20" height="17.44" fill="#7a9a30"/>
<rect x="357.50" y="392.75" width="2.20" height="18.85" fill="#1c1c5a"/>
<line x1="217.10" y1="315.95" x2="217.10" y2="412.40" stroke="#000" stroke-width="1.7"/>
<line x1="216.30" y1="411.60" x2="359.90" y2="411.60" stroke="#000" stroke-width="1.7"/>
<line x1="213.70" y1="411.80" x2="217.10" y2="411.80" stroke="#000" stroke-width="1.2"/>
<text x="213.20" y="414.20" font-size="6.8" text-anchor="end" font-weight="bold" font-style="normal" fill="#000">0.5</text>
<line x1="213.70" y1="392.75" x2="217.10" y2="392.75" stroke="#000" stroke-width="1.2"/>
<text x="213.20" y="395.15" font-size="6.8" text-anchor="end" font-weight="bold" font-style="normal" fill="#000">1</text>
<line x1="213.70" y1="373.70" x2="217.10" y2="373.70" stroke="#000" stroke-width="1.2"/>
<text x="213.20" y="376.10" font-size="6.8" text-anchor="end" font-weight="bold" font-style="normal" fill="#000">2</text>
<line x1="213.70" y1="354.65" x2="217.10" y2="354.65" stroke="#000" stroke-width="1.2"/>
<text x="213.20" y="357.05" font-size="6.8" text-anchor="end" font-weight="bold" font-style="normal" fill="#000">4</text>
<line x1="213.70" y1="335.60" x2="217.10" y2="335.60" stroke="#000" stroke-width="1.2"/>
<text x="213.20" y="338.00" font-size="6.8" text-anchor="end" font-weight="bold" font-style="normal" fill="#000">8</text>
<line x1="213.70" y1="316.55" x2="217.10" y2="316.55" stroke="#000" stroke-width="1.2"/>
<text x="213.20" y="318.95" font-size="6.8" text-anchor="end" font-weight="bold" font-style="normal" fill="#000">16</text>
<text x="221.70" y="323.90" font-size="8.75" text-anchor="start" font-weight="bold" font-style="normal" fill="#000">FaDu Cell line <tspan font-style="italic">in vitro</tspan></text>
<text x="369.60" y="310.40" font-size="12" text-anchor="start" font-weight="bold" font-style="normal" fill="#000">J</text>
<line x1="383.40" y1="413.50" x2="383.40" y2="417.10" stroke="#000" stroke-width="1.2"/>
<text x="385.85" y="417.00" font-size="7.1" text-anchor="end" font-weight="bold" font-style="normal" fill="#000" transform="rotate(-90 385.85 417.00)">IL1B</text>
<line x1="392.77" y1="413.50" x2="392.77" y2="417.10" stroke="#000" stroke-width="1.2"/>
<text x="395.22" y="417.00" font-size="7.1" text-anchor="end" font-weight="bold" font-style="normal" fill="#000" transform="rotate(-90 395.22 417.00)">IL1RA</text>
<rect x="388.12" y="398.10" width="2.20" height="15.40" fill="#2040e0"/>
<rect x="390.27" y="383.77" width="2.20" height="29.73" fill="#e23a20"/>
<rect x="392.42" y="378.10" width="2.20" height="35.40" fill="#30b040"/>
<rect x="394.57" y="360.46" width="2.20" height="53.04" fill="#b440e4"/>
<line x1="402.14" y1="413.50" x2="402.14" y2="417.10" stroke="#000" stroke-width="1.2"/>
<text x="404.59" y="417.00" font-size="7.1" text-anchor="end" font-weight="bold" font-style="normal" fill="#000" transform="rotate(-90 404.59 417.00)">IL6</text>
<line x1="411.51" y1="413.50" x2="411.51" y2="417.10" stroke="#000" stroke-width="1.2"/>
<text x="413.96" y="417.00" font-size="7.1" text-anchor="end" font-weight="bold" font-style="normal" fill="#000" transform="rotate(-90 413.96 417.00)">IL7</text>
<line x1="420.88" y1="413.50" x2="420.88" y2="417.10" stroke="#000" stroke-width="1.2"/>
<text x="423.33" y="417.00" font-size="7.1" text-anchor="end" font-weight="bold" font-style="normal" fill="#000" transform="rotate(-90 423.33 417.00)">IL8</text>
<rect x="416.23" y="398.10" width="2.20" height="15.40" fill="#2040e0"/>
<rect x="418.38" y="393.12" width="2.20" height="20.38" fill="#e23a20"/>
<rect x="420.53" y="394.03" width="2.20" height="19.47" fill="#30b040"/>
<rect x="422.68" y="371.45" width="2.20" height="42.05" fill="#b440e4"/>
<line x1="430.25" y1="413.50" x2="430.25" y2="417.10" stroke="#000" stroke-width="1.2"/>
<text x="432.70" y="417.00" font-size="7.1" text-anchor="end" font-weight="bold" font-style="normal" fill="#000" transform="rotate(-90 432.70 417.00)">IL9</text>
<rect x="425.60" y="398.10" width="2.20" height="15.40" fill="#2040e0"/>
<rect x="427.75" y="401.73" width="2.20" height="11.77" fill="#e23a20"/>
<rect x="429.90" y="395.97" width="2.20" height="17.53" fill="#30b040"/>
<rect x="432.05" y="392.24" width="2.20" height="21.26" fill="#b440e4"/>
<line x1="439.62" y1="413.50" x2="439.62" y2="417.10" stroke="#000" stroke-width="1.2"/>
<text x="442.07" y="417.00" font-size="7.1" text-anchor="end" font-weight="bold" font-style="normal" fill="#000" transform="rotate(-90 442.07 417.00)">IL17</text>
<line x1="448.99" y1="413.50" x2="448.99" y2="417.10" stroke="#000" stroke-width="1.2"/>
<text x="451.44" y="417.00" font-size="7.1" text-anchor="end" font-weight="bold" font-style="normal" fill="#000" transform="rotate(-90 451.44 417.00)">GMCSF</text>
<rect x="444.34" y="398.10" width="2.20" height="15.40" fill="#2040e0"/>
<rect x="446.49" y="403.08" width="2.20" height="10.42" fill="#e23a20"/>
<rect x="448.64" y="407.71" width="2.20" height="5.79" fill="#30b040"/>
<rect x="450.79" y="394.98" width="2.20" height="18.52" fill="#b440e4"/>
<line x1="458.36" y1="413.50" x2="458.36" y2="417.10" stroke="#000" stroke-width="1.2"/>
<text x="460.81" y="417.00" font-size="7.1" text-anchor="end" font-weight="bold" font-style="normal" fill="#000" transform="rotate(-90 460.81 417.00)">IP10/CXCL10</text>
<rect x="453.71" y="398.10" width="2.20" height="15.40" fill="#2040e0"/>
<rect x="455.86" y="399.24" width="2.20" height="14.26" fill="#e23a20"/>
<rect x="458.01" y="373.29" width="2.20" height="40.21" fill="#30b040"/>
<rect x="460.16" y="335.13" width="2.20" height="78.37" fill="#b440e4"/>
<line x1="467.73" y1="413.50" x2="467.73" y2="417.10" stroke="#000" stroke-width="1.2"/>
<text x="470.18" y="417.00" font-size="7.1" text-anchor="end" font-weight="bold" font-style="normal" fill="#000" transform="rotate(-90 470.18 417.00)">MIP1a/CCL3</text>
<rect x="463.08" y="398.10" width="2.20" height="15.40" fill="#2040e0"/>
<rect x="465.23" y="383.77" width="2.20" height="29.73" fill="#e23a20"/>
<rect x="467.38" y="380.50" width="2.20" height="33.00" fill="#30b040"/>
<rect x="469.53" y="336.22" width="2.20" height="77.28" fill="#b440e4"/>
<line x1="477.10" y1="413.50" x2="477.10" y2="417.10" stroke="#000" stroke-width="1.2"/>
<text x="479.55" y="417.00" font-size="7.1" text-anchor="end" font-weight="bold" font-style="normal" fill="#000" transform="rotate(-90 479.55 417.00)">PDGFbb</text>
<line x1="486.47" y1="413.50" x2="486.47" y2="417.10" stroke="#000" stroke-width="1.2"/>
<text x="488.92" y="417.00" font-size="7.1" text-anchor="end" font-weight="bold" font-style="normal" fill="#000" transform="rotate(-90 488.92 417.00)">MIP1b/CCL4</text>
<rect x="481.82" y="398.10" width="2.20" height="15.40" fill="#2040e0"/>
<rect x="483.97" y="400.45" width="2.20" height="13.05" fill="#e23a20"/>
<rect x="486.12" y="392.24" width="2.20" height="21.26" fill="#30b040"/>
<rect x="488.27" y="389.05" width="2.20" height="24.45" fill="#b440e4"/>
<line x1="495.84" y1="413.50" x2="495.84" y2="417.10" stroke="#000" stroke-width="1.2"/>
<text x="498.29" y="417.00" font-size="7.1" text-anchor="end" font-weight="bold" font-style="normal" fill="#000" transform="rotate(-90 498.29 417.00)">RANTES/CCL5</text>
<rect x="491.19" y="398.10" width="2.20" height="15.40" fill="#2040e0"/>
<rect x="493.34" y="403.08" width="2.20" height="10.42" fill="#e23a20"/>
<rect x="495.49" y="385.61" width="2.20" height="27.89" fill="#30b040"/>
<rect x="497.64" y="372.85" width="2.20" height="40.65" fill="#b440e4"/>
<line x1="505.21" y1="413.50" x2="505.21" y2="417.10" stroke="#000" stroke-width="1.2"/>
<text x="507.66" y="417.00" font-size="7.1" text-anchor="end" font-weight="bold" font-style="normal" fill="#000" transform="rotate(-90 507.66 417.00)">TNFa</text>
<line x1="514.58" y1="413.50" x2="514.58" y2="417.10" stroke="#000" stroke-width="1.2"/>
<text x="517.03" y="417.00" font-size="7.1" text-anchor="end" font-weight="bold" font-style="normal" fill="#000" transform="rotate(-90 517.03 417.00)">VEGF</text>
<rect x="509.93" y="398.10" width="2.20" height="15.40" fill="#2040e0"/>
<rect x="512.08" y="394.03" width="2.20" height="19.47" fill="#e23a20"/>
<rect x="514.23" y="409.50" width="2.20" height="4.00" fill="#30b040"/>
<rect x="516.38" y="403.08" width="2.20" height="10.42" fill="#b440e4"/>
<line x1="379.15" y1="320.15" x2="379.15" y2="414.30" stroke="#000" stroke-width="1.7"/>
<line x1="378.35" y1="413.50" x2="520.00" y2="413.50" stroke="#000" stroke-width="1.7"/>
<line x1="375.75" y1="413.57" x2="379.15" y2="413.57" stroke="#000" stroke-width="1.2"/>
<text x="375.25" y="415.97" font-size="6.8" text-anchor="end" font-weight="bold" font-style="normal" fill="#000">0.5</text>
<line x1="375.75" y1="398.10" x2="379.15" y2="398.10" stroke="#000" stroke-width="1.2"/>
<text x="375.25" y="400.50" font-size="6.8" text-anchor="end" font-weight="bold" font-style="normal" fill="#000">1</text>
<line x1="375.75" y1="382.63" x2="379.15" y2="382.63" stroke="#000" stroke-width="1.2"/>
<text x="375.25" y="385.03" font-size="6.8" text-anchor="end" font-weight="bold" font-style="normal" fill="#000">2</text>
<line x1="375.75" y1="367.16" x2="379.15" y2="367.16" stroke="#000" stroke-width="1.2"/>
<text x="375.25" y="369.56" font-size="6.8" text-anchor="end" font-weight="bold" font-style="normal" fill="#000">4</text>
<line x1="375.75" y1="351.69" x2="379.15" y2="351.69" stroke="#000" stroke-width="1.2"/>
<text x="375.25" y="354.09" font-size="6.8" text-anchor="end" font-weight="bold" font-style="normal" fill="#000">8</text>
<line x1="375.75" y1="336.22" x2="379.15" y2="336.22" stroke="#000" stroke-width="1.2"/>
<text x="375.25" y="338.62" font-size="6.8" text-anchor="end" font-weight="bold" font-style="normal" fill="#000">16</text>
<line x1="375.75" y1="320.75" x2="379.15" y2="320.75" stroke="#000" stroke-width="1.2"/>
<text x="375.25" y="323.15" font-size="6.8" text-anchor="end" font-weight="bold" font-style="normal" fill="#000">32</text>
<text x="381.80" y="326.60" font-size="8.8" text-anchor="start" font-weight="bold" font-style="normal" fill="#000">HN5 Cell line <tspan font-style="italic">in vitro</tspan></text>
<rect x="483.10" y="323.05" width="7.40" height="4.30" fill="#1a3ae0"/>
<text x="493.50" y="327.00" font-size="5.0" text-anchor="start" font-weight="normal" font-style="normal" fill="#000" stroke="#000" stroke-width="0.14">Control</text>
<rect x="483.10" y="331.35" width="7.40" height="4.30" fill="#e83020"/>
<text x="493.50" y="335.30" font-size="5.0" text-anchor="start" font-weight="normal" font-style="normal" fill="#000" stroke="#000" stroke-width="0.14">ATRi</text>
<rect x="483.10" y="339.75" width="7.40" height="4.30" fill="#20c020"/>
<text x="493.50" y="343.70" font-size="5.0" text-anchor="start" font-weight="normal" font-style="normal" fill="#000" stroke="#000" stroke-width="0.14">RT</text>
<rect x="483.10" y="348.35" width="7.40" height="4.30" fill="#b040e8"/>
<text x="493.50" y="352.30" font-size="5.0" text-anchor="start" font-weight="normal" font-style="normal" fill="#000" stroke="#000" stroke-width="0.14">RT+ATRi</text></svg></body></html>
